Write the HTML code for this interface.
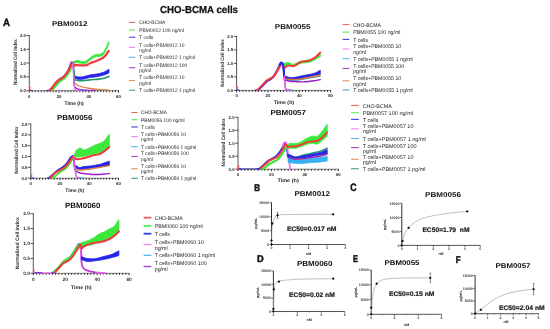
<!DOCTYPE html>
<html><head><meta charset="utf-8"><title>CHO-BCMA cells</title>
<style>html,body{margin:0;padding:0;background:#fff;}body{width:550px;height:329px;overflow:hidden;}svg{display:block;}</style>
</head><body>
<svg width="550" height="329" viewBox="0 0 550 329" text-rendering="geometricPrecision" font-family="&quot;Liberation Sans&quot;, Arial, sans-serif">
<rect width="550" height="329" fill="#fff"/>
<text x="160.10" y="12.70" font-size="10.1" font-weight="bold" textLength="77.90" lengthAdjust="spacingAndGlyphs" text-anchor="start" fill="#111" stroke="#111" stroke-width="0.25" stroke-linejoin="round">CHO-BCMA cells</text>
<text x="3.10" y="25.70" font-size="10.6" font-weight="bold" textLength="7.00" lengthAdjust="spacingAndGlyphs" text-anchor="start" fill="#111" stroke="#111" stroke-width="0.45" stroke-linejoin="round">A</text>
<text x="254.20" y="191.10" font-size="10.0" font-weight="bold" textLength="5.80" lengthAdjust="spacingAndGlyphs" text-anchor="start" fill="#111" stroke="#111" stroke-width="0.5" stroke-linejoin="round">B</text>
<text x="350.30" y="190.80" font-size="10.8" font-weight="bold" textLength="6.30" lengthAdjust="spacingAndGlyphs" text-anchor="start" fill="#111" stroke="#111" stroke-width="0.5" stroke-linejoin="round">C</text>
<text x="257.10" y="261.90" font-size="9.8" font-weight="bold" textLength="6.70" lengthAdjust="spacingAndGlyphs" text-anchor="start" fill="#111" stroke="#111" stroke-width="0.5" stroke-linejoin="round">D</text>
<text x="353.10" y="262.00" font-size="9.8" font-weight="bold" textLength="5.00" lengthAdjust="spacingAndGlyphs" text-anchor="start" fill="#111" stroke="#111" stroke-width="0.5" stroke-linejoin="round">E</text>
<text x="455.70" y="263.10" font-size="9.8" font-weight="bold" textLength="4.90" lengthAdjust="spacingAndGlyphs" text-anchor="start" fill="#111" stroke="#111" stroke-width="0.5" stroke-linejoin="round">F</text>
<text x="52.00" y="26.00" font-size="6.9" font-weight="bold" textLength="35.50" lengthAdjust="spacingAndGlyphs" text-anchor="start" fill="#111">PBM0012</text>
<text x="274.80" y="29.30" font-size="7.0" font-weight="bold" textLength="35.70" lengthAdjust="spacingAndGlyphs" text-anchor="start" fill="#111">PBM0055</text>
<text x="57.00" y="119.70" font-size="7.3" font-weight="bold" textLength="35.50" lengthAdjust="spacingAndGlyphs" text-anchor="start" fill="#111">PBM0056</text>
<text x="270.50" y="115.30" font-size="7.3" font-weight="bold" textLength="35.50" lengthAdjust="spacingAndGlyphs" text-anchor="start" fill="#111">PBM0057</text>
<text x="65.00" y="207.70" font-size="7.6" font-weight="bold" textLength="35.50" lengthAdjust="spacingAndGlyphs" text-anchor="start" fill="#111">PBM0060</text>
<text x="294.50" y="195.70" font-size="7.1" font-weight="bold" textLength="35.50" lengthAdjust="spacingAndGlyphs" text-anchor="start" fill="#111">PBM0012</text>
<text x="425.00" y="196.50" font-size="7.0" font-weight="bold" textLength="36.00" lengthAdjust="spacingAndGlyphs" text-anchor="start" fill="#111">PBM0056</text>
<text x="297.00" y="265.50" font-size="7.3" font-weight="bold" textLength="35.50" lengthAdjust="spacingAndGlyphs" text-anchor="start" fill="#111">PBM0060</text>
<text x="384.50" y="264.70" font-size="6.8" font-weight="bold" textLength="35.00" lengthAdjust="spacingAndGlyphs" text-anchor="start" fill="#111">PBM0055</text>
<text x="495.50" y="267.50" font-size="7.0" font-weight="bold" textLength="35.00" lengthAdjust="spacingAndGlyphs" text-anchor="start" fill="#111">PBM0057</text>
<line x1="29.30" y1="35.20" x2="29.30" y2="90.70" stroke="#555" stroke-width="1.0"/>
<line x1="26.50" y1="90.70" x2="29.30" y2="90.70" stroke="#2a2a2a" stroke-width="0.8"/>
<text x="25.90" y="92.25" font-size="4.3" font-weight="bold" text-anchor="end" fill="#2a2a2a">0.0</text>
<line x1="26.50" y1="76.90" x2="29.30" y2="76.90" stroke="#2a2a2a" stroke-width="0.8"/>
<text x="25.90" y="78.45" font-size="4.3" font-weight="bold" text-anchor="end" fill="#2a2a2a">0.5</text>
<line x1="26.50" y1="63.10" x2="29.30" y2="63.10" stroke="#2a2a2a" stroke-width="0.8"/>
<text x="25.90" y="64.65" font-size="4.3" font-weight="bold" text-anchor="end" fill="#2a2a2a">1.0</text>
<line x1="26.50" y1="49.30" x2="29.30" y2="49.30" stroke="#2a2a2a" stroke-width="0.8"/>
<text x="25.90" y="50.85" font-size="4.3" font-weight="bold" text-anchor="end" fill="#2a2a2a">1.5</text>
<line x1="26.50" y1="35.50" x2="29.30" y2="35.50" stroke="#2a2a2a" stroke-width="0.8"/>
<text x="25.90" y="37.05" font-size="4.3" font-weight="bold" text-anchor="end" fill="#2a2a2a">2.0</text>
<line x1="29.30" y1="90.70" x2="118.80" y2="90.70" stroke="#777" stroke-width="0.9"/>
<line x1="29.30" y1="90.50" x2="29.30" y2="92.70" stroke="#1a1a1a" stroke-width="0.9"/>
<line x1="32.27" y1="90.50" x2="32.27" y2="92.20" stroke="#1a1a1a" stroke-width="0.9"/>
<line x1="35.25" y1="90.50" x2="35.25" y2="92.20" stroke="#1a1a1a" stroke-width="0.9"/>
<line x1="38.22" y1="90.50" x2="38.22" y2="92.20" stroke="#1a1a1a" stroke-width="0.9"/>
<line x1="41.19" y1="90.50" x2="41.19" y2="92.20" stroke="#1a1a1a" stroke-width="0.9"/>
<line x1="44.17" y1="90.50" x2="44.17" y2="92.20" stroke="#1a1a1a" stroke-width="0.9"/>
<line x1="47.14" y1="90.50" x2="47.14" y2="92.20" stroke="#1a1a1a" stroke-width="0.9"/>
<line x1="50.11" y1="90.50" x2="50.11" y2="92.20" stroke="#1a1a1a" stroke-width="0.9"/>
<line x1="53.09" y1="90.50" x2="53.09" y2="92.20" stroke="#1a1a1a" stroke-width="0.9"/>
<line x1="56.06" y1="90.50" x2="56.06" y2="92.20" stroke="#1a1a1a" stroke-width="0.9"/>
<line x1="59.03" y1="90.50" x2="59.03" y2="92.70" stroke="#1a1a1a" stroke-width="0.9"/>
<line x1="62.01" y1="90.50" x2="62.01" y2="92.20" stroke="#1a1a1a" stroke-width="0.9"/>
<line x1="64.98" y1="90.50" x2="64.98" y2="92.20" stroke="#1a1a1a" stroke-width="0.9"/>
<line x1="67.95" y1="90.50" x2="67.95" y2="92.20" stroke="#1a1a1a" stroke-width="0.9"/>
<line x1="70.93" y1="90.50" x2="70.93" y2="92.20" stroke="#1a1a1a" stroke-width="0.9"/>
<line x1="73.90" y1="90.50" x2="73.90" y2="92.20" stroke="#1a1a1a" stroke-width="0.9"/>
<line x1="76.87" y1="90.50" x2="76.87" y2="92.20" stroke="#1a1a1a" stroke-width="0.9"/>
<line x1="79.85" y1="90.50" x2="79.85" y2="92.20" stroke="#1a1a1a" stroke-width="0.9"/>
<line x1="82.82" y1="90.50" x2="82.82" y2="92.20" stroke="#1a1a1a" stroke-width="0.9"/>
<line x1="85.79" y1="90.50" x2="85.79" y2="92.20" stroke="#1a1a1a" stroke-width="0.9"/>
<line x1="88.77" y1="90.50" x2="88.77" y2="92.70" stroke="#1a1a1a" stroke-width="0.9"/>
<line x1="91.74" y1="90.50" x2="91.74" y2="92.20" stroke="#1a1a1a" stroke-width="0.9"/>
<line x1="94.71" y1="90.50" x2="94.71" y2="92.20" stroke="#1a1a1a" stroke-width="0.9"/>
<line x1="97.69" y1="90.50" x2="97.69" y2="92.20" stroke="#1a1a1a" stroke-width="0.9"/>
<line x1="100.66" y1="90.50" x2="100.66" y2="92.20" stroke="#1a1a1a" stroke-width="0.9"/>
<line x1="103.63" y1="90.50" x2="103.63" y2="92.20" stroke="#1a1a1a" stroke-width="0.9"/>
<line x1="106.61" y1="90.50" x2="106.61" y2="92.20" stroke="#1a1a1a" stroke-width="0.9"/>
<line x1="109.58" y1="90.50" x2="109.58" y2="92.20" stroke="#1a1a1a" stroke-width="0.9"/>
<line x1="112.55" y1="90.50" x2="112.55" y2="92.20" stroke="#1a1a1a" stroke-width="0.9"/>
<line x1="115.53" y1="90.50" x2="115.53" y2="92.20" stroke="#1a1a1a" stroke-width="0.9"/>
<line x1="118.50" y1="90.50" x2="118.50" y2="92.70" stroke="#1a1a1a" stroke-width="0.9"/>
<text x="29.30" y="98.00" font-size="4.3" font-weight="bold" text-anchor="middle" fill="#2a2a2a">0</text>
<text x="59.03" y="98.00" font-size="4.3" font-weight="bold" text-anchor="middle" fill="#2a2a2a">20</text>
<text x="88.77" y="98.00" font-size="4.3" font-weight="bold" text-anchor="middle" fill="#2a2a2a">40</text>
<text x="118.50" y="98.00" font-size="4.3" font-weight="bold" text-anchor="middle" fill="#2a2a2a">60</text>
<text transform="translate(17.00,62.10) rotate(-90)" x="0" y="0" font-size="5.0" font-weight="bold" text-anchor="middle" fill="#2a2a2a" textLength="45.8" lengthAdjust="spacingAndGlyphs">Normalized Cell Index</text>
<text x="74.10" y="104.60" font-size="5.0" font-weight="bold" textLength="19.20" lengthAdjust="spacingAndGlyphs" text-anchor="middle" fill="#222">Time (h)</text>
<line x1="30.10" y1="90.40" x2="32.30" y2="90.40" stroke="#2626e6" stroke-width="1.1"/>
<line x1="46.50" y1="90.40" x2="49.50" y2="90.40" stroke="#2626e6" stroke-width="1.1"/>
<line x1="29.90" y1="86.70" x2="29.90" y2="90.70" stroke="#f04040" stroke-width="1.0"/>
<line x1="28.50" y1="87.50" x2="31.30" y2="87.50" stroke="#f48080" stroke-width="0.6"/>
<path d="M49.00,90.50 C49.50,90.02 50.90,88.85 52.00,87.60 C53.10,86.35 54.40,84.37 55.60,83.00 C56.80,81.63 57.87,80.47 59.20,79.40 C60.53,78.33 62.20,77.93 63.60,76.60 C65.00,75.27 66.57,73.10 67.60,71.40 C68.63,69.70 69.23,67.80 69.80,66.40 C70.37,65.00 70.63,63.70 71.00,63.00 C71.37,62.30 71.67,62.03 72.00,62.20 C72.33,62.37 72.73,62.70 73.00,64.00 C73.27,65.30 73.43,68.00 73.60,70.00 C73.77,72.00 73.93,75.00 74.00,76.00" fill="none" stroke="#2626e6" stroke-width="1.6" stroke-linejoin="round" stroke-linecap="round"/>
<path d="M51.00,90.40 C51.50,89.83 53.00,88.23 54.00,87.00 C55.00,85.77 56.00,84.17 57.00,83.00 C58.00,81.83 58.75,81.08 60.00,80.00 C61.25,78.92 63.00,78.08 64.50,76.50 C66.00,74.92 67.82,72.50 69.00,70.50 C70.18,68.50 70.97,65.83 71.60,64.50 C72.23,63.17 72.40,63.00 72.80,62.50 C73.20,62.00 73.55,61.82 74.00,61.50 C74.45,61.18 74.83,60.75 75.50,60.60 C76.17,60.45 77.12,60.50 78.00,60.60 C78.88,60.70 79.88,61.03 80.80,61.20 C81.72,61.37 82.72,61.58 83.50,61.60 C84.28,61.62 84.58,61.77 85.50,61.30 C86.42,60.83 87.83,59.68 89.00,58.80 C90.17,57.92 91.22,56.73 92.50,56.00 C93.78,55.27 95.37,54.73 96.70,54.40 C98.03,54.07 99.45,54.32 100.50,54.00 C101.55,53.68 102.17,53.40 103.00,52.50 C103.83,51.60 104.53,50.45 105.50,48.60 C106.47,46.75 108.25,42.60 108.80,41.40 L108.80,44.20 C108.25,45.37 106.47,49.40 105.50,51.20 C104.53,53.00 103.83,54.15 103.00,55.00 C102.17,55.85 101.55,56.03 100.50,56.30 C99.45,56.57 98.03,56.27 96.70,56.60 C95.37,56.93 93.78,57.57 92.50,58.30 C91.22,59.03 90.17,60.12 89.00,61.00 C87.83,61.88 86.42,63.13 85.50,63.60 C84.58,64.07 84.28,63.85 83.50,63.80 C82.72,63.75 81.72,63.47 80.80,63.30 C79.88,63.13 78.88,62.90 78.00,62.80 C77.12,62.70 76.17,62.58 75.50,62.70 C74.83,62.82 74.37,63.20 74.00,63.50 C73.63,63.80 73.58,64.00 73.30,64.50 C73.02,65.00 72.88,65.17 72.30,66.50 C71.72,67.83 70.93,70.53 69.80,72.50 C68.67,74.47 66.97,76.80 65.50,78.30 C64.03,79.80 62.25,80.52 61.00,81.50 C59.75,82.48 59.00,83.12 58.00,84.20 C57.00,85.28 56.00,86.92 55.00,88.00 C54.00,89.08 52.50,90.25 52.00,90.70 Z" fill="#3be83b" stroke="#3be83b" stroke-width="0.8" stroke-linejoin="round"/>
<path d="M49.60,90.50 C50.08,89.97 51.53,88.50 52.50,87.30 C53.47,86.10 54.33,84.53 55.40,83.30 C56.47,82.07 57.55,80.95 58.90,79.90 C60.25,78.85 61.97,78.45 63.50,77.00 C65.03,75.55 66.85,73.13 68.10,71.20 C69.35,69.27 70.32,66.83 71.00,65.40 C71.68,63.97 71.80,62.83 72.20,62.60 C72.60,62.37 73.07,63.40 73.40,64.00 C73.73,64.60 73.90,66.00 74.20,66.20 C74.50,66.40 74.28,65.35 75.20,65.20 C76.12,65.05 78.00,65.27 79.70,65.30 C81.40,65.33 83.93,65.58 85.40,65.40 C86.87,65.22 87.53,64.63 88.50,64.20 C89.47,63.77 89.80,63.37 91.20,62.80 C92.60,62.23 94.98,61.60 96.90,60.80 C98.82,60.00 101.27,58.88 102.70,58.00 C104.13,57.12 104.52,56.67 105.50,55.50 C106.48,54.33 108.08,51.75 108.60,51.00" fill="none" stroke="#f23a3a" stroke-width="2.2" stroke-linejoin="round" stroke-linecap="round"/>
<path d="M73.80,75.00 C74.38,75.30 75.83,76.50 77.30,76.80 C78.77,77.10 80.55,77.10 82.60,76.80 C84.65,76.50 87.25,75.47 89.60,75.00 C91.95,74.53 94.35,74.47 96.70,74.00 C99.05,73.53 101.65,72.98 103.70,72.20 C105.75,71.42 108.12,69.78 109.00,69.30 L109.00,72.90 C108.12,73.27 105.75,74.47 103.70,75.10 C101.65,75.73 99.05,76.28 96.70,76.70 C94.35,77.12 91.95,77.17 89.60,77.60 C87.25,78.03 84.65,79.03 82.60,79.30 C80.55,79.57 78.77,79.48 77.30,79.20 C75.83,78.92 74.38,77.87 73.80,77.60 Z" fill="#2626e6" stroke="#2626e6" stroke-width="0.8" stroke-linejoin="round"/>
<path d="M73.90,70.00 C74.02,71.42 74.33,76.85 74.60,78.50 C74.87,80.15 74.17,79.52 75.50,79.90 C76.83,80.28 80.25,80.80 82.60,80.80 C84.95,80.80 86.97,80.18 89.60,79.90 C92.23,79.62 96.00,79.38 98.40,79.10 C100.80,78.82 102.23,78.65 104.00,78.20 C105.77,77.75 108.17,76.70 109.00,76.40" fill="none" stroke="#1f9a6a" stroke-width="1.6" stroke-linejoin="round" stroke-linecap="round"/>
<path d="M73.60,70.00 C73.65,71.75 73.67,78.33 73.90,80.50 C74.13,82.67 74.43,82.22 75.00,83.00 C75.57,83.78 76.03,84.53 77.30,85.20 C78.57,85.87 80.82,86.50 82.60,87.00 C84.38,87.50 86.25,87.88 88.00,88.20 C89.75,88.52 91.10,88.68 93.10,88.90 C95.10,89.12 97.35,89.30 100.00,89.50 C102.65,89.70 107.50,90.00 109.00,90.10" fill="none" stroke="#e07a30" stroke-width="1.2" stroke-linejoin="round" stroke-linecap="round"/>
<path d="M73.50,72.00 C73.57,74.00 73.65,81.50 73.90,84.00 C74.15,86.50 74.48,86.23 75.00,87.00 C75.52,87.77 76.17,88.17 77.00,88.60 C77.83,89.03 78.67,89.33 80.00,89.60 C81.33,89.87 82.50,90.07 85.00,90.20 C87.50,90.33 93.33,90.37 95.00,90.40" fill="none" stroke="#9a1fc8" stroke-width="1.2" stroke-linejoin="round" stroke-linecap="round"/>
<path d="M73.40,70.00 C73.53,72.50 73.90,81.75 74.20,85.00 C74.50,88.25 74.57,88.62 75.20,89.50 C75.83,90.38 76.87,90.15 78.00,90.30 C79.13,90.45 81.33,90.38 82.00,90.40" fill="none" stroke="#30b0f0" stroke-width="1.0" stroke-linejoin="round" stroke-linecap="round"/>
<path d="M72.60,63.00 C72.72,64.17 73.10,67.17 73.30,70.00 C73.50,72.83 73.58,77.00 73.80,80.00 C74.02,83.00 74.23,86.30 74.60,88.00 C74.97,89.70 75.10,89.78 76.00,90.20 C76.90,90.62 79.33,90.45 80.00,90.50" fill="none" stroke="#f060f0" stroke-width="1.2" stroke-linejoin="round" stroke-linecap="round"/>
<line x1="129.00" y1="22.40" x2="135.30" y2="22.40" stroke="#f06868" stroke-width="1.1"/>
<text x="139.20" y="24.41" font-size="5.1" textLength="25.90" lengthAdjust="spacingAndGlyphs" text-anchor="start" fill="#1e1e1e">CHO-BCMA</text>
<line x1="129.00" y1="29.90" x2="135.30" y2="29.90" stroke="#58f058" stroke-width="1.1"/>
<text x="139.20" y="31.91" font-size="5.1" textLength="44.80" lengthAdjust="spacingAndGlyphs" text-anchor="start" fill="#1e1e1e">PBM0012 100 ng/ml</text>
<line x1="129.00" y1="37.20" x2="135.30" y2="37.20" stroke="#4040e8" stroke-width="1.1"/>
<text x="139.20" y="39.21" font-size="5.1" textLength="14.07" lengthAdjust="spacingAndGlyphs" text-anchor="start" fill="#1e1e1e">T cells</text>
<line x1="129.00" y1="47.40" x2="135.30" y2="47.40" stroke="#f080f0" stroke-width="1.1"/>
<text x="139.20" y="46.91" font-size="5.1" textLength="45.26" lengthAdjust="spacingAndGlyphs" text-anchor="start" fill="#1e1e1e">T cells+PBM0012 10</text>
<text x="139.20" y="51.91" font-size="5.1" textLength="11.98" lengthAdjust="spacingAndGlyphs" text-anchor="start" fill="#1e1e1e">ng/ml</text>
<line x1="129.00" y1="57.30" x2="135.30" y2="57.30" stroke="#50b8f4" stroke-width="1.1"/>
<text x="139.20" y="59.31" font-size="5.1" textLength="56.00" lengthAdjust="spacingAndGlyphs" text-anchor="start" fill="#1e1e1e">T cells+PBM0012 1 ng/ml</text>
<line x1="129.00" y1="67.70" x2="135.30" y2="67.70" stroke="#a040cc" stroke-width="1.1"/>
<text x="139.20" y="66.51" font-size="5.1" textLength="47.98" lengthAdjust="spacingAndGlyphs" text-anchor="start" fill="#1e1e1e">T cells+PBM0012 100</text>
<text x="139.20" y="72.41" font-size="5.1" textLength="11.98" lengthAdjust="spacingAndGlyphs" text-anchor="start" fill="#1e1e1e">pg/ml</text>
<line x1="129.00" y1="80.50" x2="135.30" y2="80.50" stroke="#e8905a" stroke-width="1.1"/>
<text x="139.20" y="79.31" font-size="5.1" textLength="45.26" lengthAdjust="spacingAndGlyphs" text-anchor="start" fill="#1e1e1e">T cells+PBM0012 10</text>
<text x="139.20" y="85.21" font-size="5.1" textLength="11.98" lengthAdjust="spacingAndGlyphs" text-anchor="start" fill="#1e1e1e">pg/ml</text>
<line x1="129.00" y1="90.20" x2="135.30" y2="90.20" stroke="#30a080" stroke-width="1.1"/>
<text x="139.20" y="92.21" font-size="5.1" textLength="56.00" lengthAdjust="spacingAndGlyphs" text-anchor="start" fill="#1e1e1e">T cells+PBM0012 1 pg/ml</text>
<line x1="236.60" y1="36.10" x2="236.60" y2="90.40" stroke="#555" stroke-width="1.0"/>
<line x1="233.80" y1="90.40" x2="236.60" y2="90.40" stroke="#2a2a2a" stroke-width="0.8"/>
<text x="233.20" y="91.95" font-size="4.3" font-weight="bold" text-anchor="end" fill="#2a2a2a">0.0</text>
<line x1="233.80" y1="76.90" x2="236.60" y2="76.90" stroke="#2a2a2a" stroke-width="0.8"/>
<text x="233.20" y="78.45" font-size="4.3" font-weight="bold" text-anchor="end" fill="#2a2a2a">0.5</text>
<line x1="233.80" y1="63.40" x2="236.60" y2="63.40" stroke="#2a2a2a" stroke-width="0.8"/>
<text x="233.20" y="64.95" font-size="4.3" font-weight="bold" text-anchor="end" fill="#2a2a2a">1.0</text>
<line x1="233.80" y1="49.90" x2="236.60" y2="49.90" stroke="#2a2a2a" stroke-width="0.8"/>
<text x="233.20" y="51.45" font-size="4.3" font-weight="bold" text-anchor="end" fill="#2a2a2a">1.5</text>
<line x1="233.80" y1="36.40" x2="236.60" y2="36.40" stroke="#2a2a2a" stroke-width="0.8"/>
<text x="233.20" y="37.95" font-size="4.3" font-weight="bold" text-anchor="end" fill="#2a2a2a">2.0</text>
<line x1="236.60" y1="90.40" x2="330.90" y2="90.40" stroke="#777" stroke-width="0.9"/>
<line x1="236.60" y1="90.20" x2="236.60" y2="92.40" stroke="#1a1a1a" stroke-width="0.9"/>
<line x1="239.73" y1="90.20" x2="239.73" y2="91.90" stroke="#1a1a1a" stroke-width="0.9"/>
<line x1="242.87" y1="90.20" x2="242.87" y2="91.90" stroke="#1a1a1a" stroke-width="0.9"/>
<line x1="246.00" y1="90.20" x2="246.00" y2="91.90" stroke="#1a1a1a" stroke-width="0.9"/>
<line x1="249.13" y1="90.20" x2="249.13" y2="91.90" stroke="#1a1a1a" stroke-width="0.9"/>
<line x1="252.27" y1="90.20" x2="252.27" y2="91.90" stroke="#1a1a1a" stroke-width="0.9"/>
<line x1="255.40" y1="90.20" x2="255.40" y2="91.90" stroke="#1a1a1a" stroke-width="0.9"/>
<line x1="258.53" y1="90.20" x2="258.53" y2="91.90" stroke="#1a1a1a" stroke-width="0.9"/>
<line x1="261.67" y1="90.20" x2="261.67" y2="91.90" stroke="#1a1a1a" stroke-width="0.9"/>
<line x1="264.80" y1="90.20" x2="264.80" y2="91.90" stroke="#1a1a1a" stroke-width="0.9"/>
<line x1="267.93" y1="90.20" x2="267.93" y2="92.40" stroke="#1a1a1a" stroke-width="0.9"/>
<line x1="271.07" y1="90.20" x2="271.07" y2="91.90" stroke="#1a1a1a" stroke-width="0.9"/>
<line x1="274.20" y1="90.20" x2="274.20" y2="91.90" stroke="#1a1a1a" stroke-width="0.9"/>
<line x1="277.33" y1="90.20" x2="277.33" y2="91.90" stroke="#1a1a1a" stroke-width="0.9"/>
<line x1="280.47" y1="90.20" x2="280.47" y2="91.90" stroke="#1a1a1a" stroke-width="0.9"/>
<line x1="283.60" y1="90.20" x2="283.60" y2="91.90" stroke="#1a1a1a" stroke-width="0.9"/>
<line x1="286.73" y1="90.20" x2="286.73" y2="91.90" stroke="#1a1a1a" stroke-width="0.9"/>
<line x1="289.87" y1="90.20" x2="289.87" y2="91.90" stroke="#1a1a1a" stroke-width="0.9"/>
<line x1="293.00" y1="90.20" x2="293.00" y2="91.90" stroke="#1a1a1a" stroke-width="0.9"/>
<line x1="296.13" y1="90.20" x2="296.13" y2="91.90" stroke="#1a1a1a" stroke-width="0.9"/>
<line x1="299.27" y1="90.20" x2="299.27" y2="92.40" stroke="#1a1a1a" stroke-width="0.9"/>
<line x1="302.40" y1="90.20" x2="302.40" y2="91.90" stroke="#1a1a1a" stroke-width="0.9"/>
<line x1="305.53" y1="90.20" x2="305.53" y2="91.90" stroke="#1a1a1a" stroke-width="0.9"/>
<line x1="308.67" y1="90.20" x2="308.67" y2="91.90" stroke="#1a1a1a" stroke-width="0.9"/>
<line x1="311.80" y1="90.20" x2="311.80" y2="91.90" stroke="#1a1a1a" stroke-width="0.9"/>
<line x1="314.93" y1="90.20" x2="314.93" y2="91.90" stroke="#1a1a1a" stroke-width="0.9"/>
<line x1="318.07" y1="90.20" x2="318.07" y2="91.90" stroke="#1a1a1a" stroke-width="0.9"/>
<line x1="321.20" y1="90.20" x2="321.20" y2="91.90" stroke="#1a1a1a" stroke-width="0.9"/>
<line x1="324.33" y1="90.20" x2="324.33" y2="91.90" stroke="#1a1a1a" stroke-width="0.9"/>
<line x1="327.47" y1="90.20" x2="327.47" y2="91.90" stroke="#1a1a1a" stroke-width="0.9"/>
<line x1="330.60" y1="90.20" x2="330.60" y2="92.40" stroke="#1a1a1a" stroke-width="0.9"/>
<text x="236.60" y="97.40" font-size="4.3" font-weight="bold" text-anchor="middle" fill="#2a2a2a">0</text>
<text x="267.93" y="97.40" font-size="4.3" font-weight="bold" text-anchor="middle" fill="#2a2a2a">20</text>
<text x="299.27" y="97.40" font-size="4.3" font-weight="bold" text-anchor="middle" fill="#2a2a2a">40</text>
<text x="330.60" y="97.40" font-size="4.3" font-weight="bold" text-anchor="middle" fill="#2a2a2a">60</text>
<text transform="translate(224.30,62.90) rotate(-90)" x="0" y="0" font-size="5.0" font-weight="bold" text-anchor="middle" fill="#2a2a2a" textLength="47.5" lengthAdjust="spacingAndGlyphs">Normalized Cell Index</text>
<text x="283.90" y="104.40" font-size="5.0" font-weight="bold" textLength="20.50" lengthAdjust="spacingAndGlyphs" text-anchor="middle" fill="#222">Time (h)</text>
<line x1="237.40" y1="90.10" x2="239.60" y2="90.10" stroke="#2626e6" stroke-width="1.1"/>
<line x1="254.50" y1="90.10" x2="257.50" y2="90.10" stroke="#2626e6" stroke-width="1.1"/>
<line x1="237.20" y1="86.40" x2="237.20" y2="90.40" stroke="#f04040" stroke-width="1.0"/>
<line x1="235.80" y1="87.20" x2="238.60" y2="87.20" stroke="#f48080" stroke-width="0.6"/>
<path d="M258.50,90.40 C259.17,89.67 261.12,87.48 262.50,86.00 C263.88,84.52 265.47,82.58 266.80,81.50 C268.13,80.42 269.30,80.25 270.50,79.50 C271.70,78.75 272.87,78.25 274.00,77.00 C275.13,75.75 276.30,73.75 277.30,72.00 C278.30,70.25 279.33,67.92 280.00,66.50 C280.67,65.08 280.88,63.92 281.30,63.50 C281.72,63.08 282.08,62.92 282.50,64.00 C282.92,65.08 283.45,67.33 283.80,70.00 C284.15,72.67 284.32,76.87 284.60,80.00 C284.88,83.13 285.02,87.20 285.50,88.80 C285.98,90.40 286.75,89.42 287.50,89.60 C288.25,89.78 289.58,89.85 290.00,89.90" fill="none" stroke="#f060f0" stroke-width="1.5" stroke-linejoin="round" stroke-linecap="round"/>
<path d="M257.60,90.40 C258.40,89.67 260.83,87.50 262.40,86.00 C263.97,84.50 265.67,82.53 267.00,81.40 C268.33,80.27 269.32,80.03 270.40,79.20 C271.48,78.37 272.50,77.70 273.50,76.40 C274.50,75.10 275.52,73.03 276.40,71.40 C277.28,69.77 278.13,67.93 278.80,66.60 C279.47,65.27 279.98,64.07 280.40,63.40 C280.82,62.73 280.93,62.58 281.30,62.60 C281.67,62.62 282.23,62.60 282.60,63.50 C282.97,64.40 283.27,65.83 283.50,68.00 C283.73,70.17 283.92,75.08 284.00,76.50" fill="none" stroke="#2626e6" stroke-width="1.8" stroke-linejoin="round" stroke-linecap="round"/>
<path d="M282.00,63.60 C282.17,63.70 282.50,64.27 283.00,64.20 C283.50,64.13 284.08,63.47 285.00,63.20 C285.92,62.93 287.10,62.43 288.50,62.60 C289.90,62.77 291.30,64.47 293.40,64.20 C295.50,63.93 298.53,61.67 301.10,61.00 C303.67,60.33 306.57,60.73 308.80,60.20 C311.03,59.67 312.58,58.80 314.50,57.80 C316.42,56.80 319.33,54.80 320.30,54.20 L320.30,56.60 C319.33,57.17 316.42,59.03 314.50,60.00 C312.58,60.97 311.03,61.87 308.80,62.40 C306.57,62.93 303.67,62.50 301.10,63.20 C298.53,63.90 295.50,66.30 293.40,66.60 C291.30,66.90 289.90,65.13 288.50,65.00 C287.10,64.87 285.83,65.47 285.00,65.80 C284.17,66.13 284.00,67.03 283.50,67.00 C283.00,66.97 282.25,65.83 282.00,65.60 Z" fill="#3be83b" stroke="#3be83b" stroke-width="0.8" stroke-linejoin="round"/>
<path d="M257.30,90.20 C258.07,89.40 260.35,87.00 261.90,85.40 C263.45,83.80 265.25,81.72 266.60,80.60 C267.95,79.48 268.85,79.40 270.00,78.70 C271.15,78.00 272.33,77.65 273.50,76.40 C274.67,75.15 275.93,72.93 277.00,71.20 C278.07,69.47 279.23,67.37 279.90,66.00 C280.57,64.63 280.53,63.10 281.00,63.00 C281.47,62.90 282.22,64.57 282.70,65.40 C283.18,66.23 283.42,67.73 283.90,68.00 C284.38,68.27 284.83,67.40 285.60,67.00 C286.37,66.60 287.20,65.73 288.50,65.60 C289.80,65.47 291.90,66.47 293.40,66.20 C294.90,65.93 296.22,64.70 297.50,64.00 C298.78,63.30 299.22,62.57 301.10,62.00 C302.98,61.43 306.57,61.30 308.80,60.60 C311.03,59.90 312.58,59.13 314.50,57.80 C316.42,56.47 319.33,53.47 320.30,52.60" fill="none" stroke="#f23a3a" stroke-width="2.0" stroke-linejoin="round" stroke-linecap="round"/>
<path d="M279.60,65.00 C279.77,64.67 280.27,63.40 280.60,63.00 C280.93,62.60 281.27,62.50 281.60,62.60 C281.93,62.70 282.32,62.95 282.60,63.60 C282.88,64.25 283.10,65.35 283.30,66.50 C283.50,67.65 283.65,68.92 283.80,70.50 C283.95,72.08 284.13,75.08 284.20,76.00" fill="none" stroke="#2626e6" stroke-width="2.0" stroke-linejoin="round" stroke-linecap="round"/>
<path d="M284.00,75.80 C284.95,76.07 287.87,77.15 289.70,77.40 C291.53,77.65 293.12,77.53 295.00,77.30 C296.88,77.07 298.70,76.47 301.00,76.00 C303.30,75.53 306.55,74.97 308.80,74.50 C311.05,74.03 312.58,73.92 314.50,73.20 C316.42,72.48 319.33,70.70 320.30,70.20 L320.30,74.40 C319.33,74.73 316.42,75.90 314.50,76.40 C312.58,76.90 311.05,76.98 308.80,77.40 C306.55,77.82 303.30,78.48 301.00,78.90 C298.70,79.32 296.88,79.73 295.00,79.90 C293.12,80.07 291.53,79.98 289.70,79.90 C287.87,79.82 284.95,79.48 284.00,79.40 Z" fill="#2626e6" stroke="#2626e6" stroke-width="0.8" stroke-linejoin="round"/>
<path d="M285.00,79.60 C286.67,79.72 292.00,80.37 295.00,80.30 C298.00,80.23 300.50,79.58 303.00,79.20 C305.50,78.82 307.12,78.50 310.00,78.00 C312.88,77.50 318.58,76.50 320.30,76.20" fill="none" stroke="#35a8c0" stroke-width="1.2" stroke-linejoin="round" stroke-linecap="round"/>
<path d="M285.00,79.20 C286.67,79.27 292.00,79.72 295.00,79.60 C298.00,79.48 300.50,78.88 303.00,78.50 C305.50,78.12 307.12,77.88 310.00,77.30 C312.88,76.72 318.58,75.38 320.30,75.00" fill="none" stroke="#e07a30" stroke-width="1.4" stroke-linejoin="round" stroke-linecap="round"/>
<path d="M284.50,80.00 C285.42,80.20 287.87,80.92 290.00,81.20 C292.13,81.48 295.13,81.58 297.30,81.70 C299.47,81.82 301.08,81.93 303.00,81.90 C304.92,81.87 306.88,81.68 308.80,81.50 C310.72,81.32 312.58,81.12 314.50,80.80 C316.42,80.48 319.33,79.80 320.30,79.60" fill="none" stroke="#9a1fc8" stroke-width="1.4" stroke-linejoin="round" stroke-linecap="round"/>
<path d="M285.00,85.00 C285.17,85.77 285.17,88.77 286.00,89.60 C286.83,90.43 288.92,89.93 290.00,90.00 C291.08,90.07 292.08,90.00 292.50,90.00" fill="none" stroke="#30b0f0" stroke-width="1.0" stroke-linejoin="round" stroke-linecap="round"/>
<path d="M284.40,76.00 C284.50,77.00 284.80,79.90 285.00,82.00 C285.20,84.10 285.18,87.33 285.60,88.60 C286.02,89.87 286.77,89.38 287.50,89.60 C288.23,89.82 289.58,89.85 290.00,89.90" fill="none" stroke="#f060f0" stroke-width="1.4" stroke-linejoin="round" stroke-linecap="round"/>
<line x1="342.60" y1="24.50" x2="349.30" y2="24.50" stroke="#f06868" stroke-width="1.1"/>
<text x="353.20" y="26.63" font-size="5.41" textLength="27.60" lengthAdjust="spacingAndGlyphs" text-anchor="start" fill="#1e1e1e">CHO-BCMA</text>
<line x1="342.60" y1="32.10" x2="349.30" y2="32.10" stroke="#58f058" stroke-width="1.1"/>
<text x="353.20" y="34.23" font-size="5.41" textLength="47.30" lengthAdjust="spacingAndGlyphs" text-anchor="start" fill="#1e1e1e">PBM0055 100 ng/ml</text>
<line x1="342.60" y1="39.40" x2="349.30" y2="39.40" stroke="#4040e8" stroke-width="1.1"/>
<text x="353.20" y="41.53" font-size="5.41" textLength="14.93" lengthAdjust="spacingAndGlyphs" text-anchor="start" fill="#1e1e1e">T cells</text>
<line x1="342.60" y1="49.00" x2="349.30" y2="49.00" stroke="#f080f0" stroke-width="1.1"/>
<text x="353.20" y="48.23" font-size="5.41" textLength="48.03" lengthAdjust="spacingAndGlyphs" text-anchor="start" fill="#1e1e1e">T cells+PBM0055 10</text>
<text x="353.20" y="53.63" font-size="5.41" textLength="12.71" lengthAdjust="spacingAndGlyphs" text-anchor="start" fill="#1e1e1e">ng/ml</text>
<line x1="342.60" y1="58.70" x2="349.30" y2="58.70" stroke="#50b8f4" stroke-width="1.1"/>
<text x="353.20" y="60.83" font-size="5.41" textLength="59.60" lengthAdjust="spacingAndGlyphs" text-anchor="start" fill="#1e1e1e">T cells+PBM0055 1 ng/ml</text>
<line x1="342.60" y1="68.50" x2="349.30" y2="68.50" stroke="#a040cc" stroke-width="1.1"/>
<text x="353.20" y="67.83" font-size="5.41" textLength="50.92" lengthAdjust="spacingAndGlyphs" text-anchor="start" fill="#1e1e1e">T cells+PBM0055 100</text>
<text x="353.20" y="73.23" font-size="5.41" textLength="12.71" lengthAdjust="spacingAndGlyphs" text-anchor="start" fill="#1e1e1e">pg/ml</text>
<line x1="342.60" y1="80.80" x2="349.30" y2="80.80" stroke="#e8905a" stroke-width="1.1"/>
<text x="353.20" y="79.73" font-size="5.41" textLength="48.03" lengthAdjust="spacingAndGlyphs" text-anchor="start" fill="#1e1e1e">T cells+PBM0055 10</text>
<text x="353.20" y="85.63" font-size="5.41" textLength="12.71" lengthAdjust="spacingAndGlyphs" text-anchor="start" fill="#1e1e1e">pg/ml</text>
<line x1="342.60" y1="90.00" x2="349.30" y2="90.00" stroke="#4aa3bd" stroke-width="1.1"/>
<text x="353.20" y="92.13" font-size="5.41" textLength="59.60" lengthAdjust="spacingAndGlyphs" text-anchor="start" fill="#1e1e1e">T cells+PBM0055 1 pg/ml</text>
<line x1="30.80" y1="123.70" x2="30.80" y2="178.20" stroke="#555" stroke-width="1.0"/>
<line x1="28.00" y1="178.20" x2="30.80" y2="178.20" stroke="#2a2a2a" stroke-width="0.8"/>
<text x="27.40" y="179.75" font-size="4.3" font-weight="bold" text-anchor="end" fill="#2a2a2a">0.0</text>
<line x1="28.00" y1="167.36" x2="30.80" y2="167.36" stroke="#2a2a2a" stroke-width="0.8"/>
<text x="27.40" y="168.91" font-size="4.3" font-weight="bold" text-anchor="end" fill="#2a2a2a">0.5</text>
<line x1="28.00" y1="156.52" x2="30.80" y2="156.52" stroke="#2a2a2a" stroke-width="0.8"/>
<text x="27.40" y="158.07" font-size="4.3" font-weight="bold" text-anchor="end" fill="#2a2a2a">1.0</text>
<line x1="28.00" y1="145.68" x2="30.80" y2="145.68" stroke="#2a2a2a" stroke-width="0.8"/>
<text x="27.40" y="147.23" font-size="4.3" font-weight="bold" text-anchor="end" fill="#2a2a2a">1.5</text>
<line x1="28.00" y1="134.84" x2="30.80" y2="134.84" stroke="#2a2a2a" stroke-width="0.8"/>
<text x="27.40" y="136.39" font-size="4.3" font-weight="bold" text-anchor="end" fill="#2a2a2a">2.0</text>
<line x1="28.00" y1="124.00" x2="30.80" y2="124.00" stroke="#2a2a2a" stroke-width="0.8"/>
<text x="27.40" y="125.55" font-size="4.3" font-weight="bold" text-anchor="end" fill="#2a2a2a">2.5</text>
<line x1="30.80" y1="178.20" x2="118.70" y2="178.20" stroke="#777" stroke-width="0.9"/>
<line x1="30.80" y1="178.00" x2="30.80" y2="180.20" stroke="#1a1a1a" stroke-width="0.9"/>
<line x1="33.72" y1="178.00" x2="33.72" y2="179.70" stroke="#1a1a1a" stroke-width="0.9"/>
<line x1="36.64" y1="178.00" x2="36.64" y2="179.70" stroke="#1a1a1a" stroke-width="0.9"/>
<line x1="39.56" y1="178.00" x2="39.56" y2="179.70" stroke="#1a1a1a" stroke-width="0.9"/>
<line x1="42.48" y1="178.00" x2="42.48" y2="179.70" stroke="#1a1a1a" stroke-width="0.9"/>
<line x1="45.40" y1="178.00" x2="45.40" y2="179.70" stroke="#1a1a1a" stroke-width="0.9"/>
<line x1="48.32" y1="178.00" x2="48.32" y2="179.70" stroke="#1a1a1a" stroke-width="0.9"/>
<line x1="51.24" y1="178.00" x2="51.24" y2="179.70" stroke="#1a1a1a" stroke-width="0.9"/>
<line x1="54.16" y1="178.00" x2="54.16" y2="179.70" stroke="#1a1a1a" stroke-width="0.9"/>
<line x1="57.08" y1="178.00" x2="57.08" y2="179.70" stroke="#1a1a1a" stroke-width="0.9"/>
<line x1="60.00" y1="178.00" x2="60.00" y2="180.20" stroke="#1a1a1a" stroke-width="0.9"/>
<line x1="62.92" y1="178.00" x2="62.92" y2="179.70" stroke="#1a1a1a" stroke-width="0.9"/>
<line x1="65.84" y1="178.00" x2="65.84" y2="179.70" stroke="#1a1a1a" stroke-width="0.9"/>
<line x1="68.76" y1="178.00" x2="68.76" y2="179.70" stroke="#1a1a1a" stroke-width="0.9"/>
<line x1="71.68" y1="178.00" x2="71.68" y2="179.70" stroke="#1a1a1a" stroke-width="0.9"/>
<line x1="74.60" y1="178.00" x2="74.60" y2="179.70" stroke="#1a1a1a" stroke-width="0.9"/>
<line x1="77.52" y1="178.00" x2="77.52" y2="179.70" stroke="#1a1a1a" stroke-width="0.9"/>
<line x1="80.44" y1="178.00" x2="80.44" y2="179.70" stroke="#1a1a1a" stroke-width="0.9"/>
<line x1="83.36" y1="178.00" x2="83.36" y2="179.70" stroke="#1a1a1a" stroke-width="0.9"/>
<line x1="86.28" y1="178.00" x2="86.28" y2="179.70" stroke="#1a1a1a" stroke-width="0.9"/>
<line x1="89.20" y1="178.00" x2="89.20" y2="180.20" stroke="#1a1a1a" stroke-width="0.9"/>
<line x1="92.12" y1="178.00" x2="92.12" y2="179.70" stroke="#1a1a1a" stroke-width="0.9"/>
<line x1="95.04" y1="178.00" x2="95.04" y2="179.70" stroke="#1a1a1a" stroke-width="0.9"/>
<line x1="97.96" y1="178.00" x2="97.96" y2="179.70" stroke="#1a1a1a" stroke-width="0.9"/>
<line x1="100.88" y1="178.00" x2="100.88" y2="179.70" stroke="#1a1a1a" stroke-width="0.9"/>
<line x1="103.80" y1="178.00" x2="103.80" y2="179.70" stroke="#1a1a1a" stroke-width="0.9"/>
<line x1="106.72" y1="178.00" x2="106.72" y2="179.70" stroke="#1a1a1a" stroke-width="0.9"/>
<line x1="109.64" y1="178.00" x2="109.64" y2="179.70" stroke="#1a1a1a" stroke-width="0.9"/>
<line x1="112.56" y1="178.00" x2="112.56" y2="179.70" stroke="#1a1a1a" stroke-width="0.9"/>
<line x1="115.48" y1="178.00" x2="115.48" y2="179.70" stroke="#1a1a1a" stroke-width="0.9"/>
<line x1="118.40" y1="178.00" x2="118.40" y2="180.20" stroke="#1a1a1a" stroke-width="0.9"/>
<text x="30.80" y="185.00" font-size="4.3" font-weight="bold" text-anchor="middle" fill="#2a2a2a">0</text>
<text x="60.00" y="185.00" font-size="4.3" font-weight="bold" text-anchor="middle" fill="#2a2a2a">20</text>
<text x="89.20" y="185.00" font-size="4.3" font-weight="bold" text-anchor="middle" fill="#2a2a2a">40</text>
<text x="118.40" y="185.00" font-size="4.3" font-weight="bold" text-anchor="middle" fill="#2a2a2a">60</text>
<text transform="translate(18.00,150.10) rotate(-90)" x="0" y="0" font-size="5.0" font-weight="bold" text-anchor="middle" fill="#2a2a2a" textLength="47.2" lengthAdjust="spacingAndGlyphs">Normalized Cell Index</text>
<text x="74.75" y="192.00" font-size="5.0" font-weight="bold" textLength="18.90" lengthAdjust="spacingAndGlyphs" text-anchor="middle" fill="#222">Time (h)</text>
<line x1="31.60" y1="177.90" x2="33.80" y2="177.90" stroke="#2626e6" stroke-width="1.1"/>
<line x1="47.00" y1="177.90" x2="50.00" y2="177.90" stroke="#2626e6" stroke-width="1.1"/>
<line x1="31.40" y1="174.20" x2="31.40" y2="178.20" stroke="#f04040" stroke-width="1.0"/>
<line x1="30.00" y1="175.00" x2="32.80" y2="175.00" stroke="#f48080" stroke-width="0.6"/>
<path d="M49.20,177.80 C49.83,177.25 51.62,175.72 53.00,174.50 C54.38,173.28 56.08,171.58 57.50,170.50 C58.92,169.42 60.17,168.92 61.50,168.00 C62.83,167.08 64.33,166.17 65.50,165.00 C66.67,163.83 67.67,162.23 68.50,161.00 C69.33,159.77 69.87,158.40 70.50,157.60 C71.13,156.80 71.85,156.42 72.30,156.20 C72.75,155.98 72.92,155.83 73.20,156.30 C73.48,156.77 73.80,157.38 74.00,159.00 C74.20,160.62 74.33,164.83 74.40,166.00" fill="none" stroke="#2626e6" stroke-width="1.8" stroke-linejoin="round" stroke-linecap="round"/>
<path d="M52.00,178.00 C52.55,177.70 53.93,177.27 55.30,176.20 C56.67,175.13 58.58,172.80 60.20,171.60 C61.82,170.40 63.38,170.42 65.00,169.00 C66.62,167.58 68.65,164.77 69.90,163.10 C71.15,161.43 71.82,159.98 72.50,159.00 C73.18,158.02 73.75,157.50 74.00,157.20" fill="none" stroke="#3be83b" stroke-width="2.0" stroke-linejoin="round" stroke-linecap="round"/>
<path d="M74.30,156.00 C74.58,155.08 75.47,151.58 76.00,150.50 C76.53,149.42 76.90,149.92 77.50,149.50 C78.10,149.08 78.93,148.15 79.60,148.00 C80.27,147.85 80.87,148.27 81.50,148.60 C82.13,148.93 82.73,149.85 83.40,150.00 C84.07,150.15 84.67,149.77 85.50,149.50 C86.33,149.23 86.80,149.13 88.40,148.40 C90.00,147.67 92.87,146.07 95.10,145.10 C97.33,144.13 100.23,143.37 101.80,142.60 C103.37,141.83 103.67,141.33 104.50,140.50 C105.33,139.67 106.00,138.65 106.80,137.60 C107.60,136.55 108.88,134.77 109.30,134.20 L109.30,147.00 C108.88,147.27 108.33,147.63 106.80,148.60 C105.27,149.57 102.62,151.82 100.10,152.80 C97.58,153.78 94.48,153.93 91.70,154.50 C88.92,155.07 85.90,155.78 83.40,156.20 C80.90,156.62 78.22,156.78 76.70,157.00 C75.18,157.22 74.70,157.42 74.30,157.50 Z" fill="#3be83b" stroke="#3be83b" stroke-width="0.8" stroke-linejoin="round"/>
<path d="M50.40,177.60 C50.83,177.20 52.18,176.00 53.00,175.20 C53.82,174.40 54.10,173.70 55.30,172.80 C56.50,171.90 58.78,170.60 60.20,169.80 C61.62,169.00 62.58,168.92 63.80,168.00 C65.02,167.08 66.38,165.62 67.50,164.30 C68.62,162.98 69.70,161.22 70.50,160.10 C71.30,158.98 71.82,158.15 72.30,157.60 C72.78,157.05 73.03,156.70 73.40,156.80 C73.77,156.90 73.87,157.80 74.50,158.20 C75.13,158.60 75.73,159.18 77.20,159.20 C78.67,159.22 81.50,158.67 83.30,158.30 C85.10,157.93 86.60,157.42 88.00,157.00 C89.40,156.58 90.37,156.17 91.70,155.80 C93.03,155.43 94.60,155.13 96.00,154.80 C97.40,154.47 98.58,154.50 100.10,153.80 C101.62,153.10 103.57,151.73 105.10,150.60 C106.63,149.47 108.60,147.60 109.30,147.00" fill="none" stroke="#f23a3a" stroke-width="2.0" stroke-linejoin="round" stroke-linecap="round"/>
<path d="M74.40,165.60 C74.78,165.67 75.83,165.67 76.70,166.00 C77.57,166.33 78.48,167.50 79.60,167.60 C80.72,167.70 81.38,166.90 83.40,166.60 C85.42,166.30 88.92,166.20 91.70,165.80 C94.48,165.40 97.88,164.73 100.10,164.20 C102.32,163.67 103.47,163.13 105.00,162.60 C106.53,162.07 108.58,161.27 109.30,161.00 L109.30,165.40 C108.58,165.50 106.53,165.75 105.00,166.00 C103.47,166.25 102.32,166.57 100.10,166.90 C97.88,167.23 94.48,167.65 91.70,168.00 C88.92,168.35 85.42,168.77 83.40,169.00 C81.38,169.23 80.72,169.50 79.60,169.40 C78.48,169.30 77.57,168.57 76.70,168.40 C75.83,168.23 74.78,168.40 74.40,168.40 Z" fill="#2626e6" stroke="#2626e6" stroke-width="0.8" stroke-linejoin="round"/>
<path d="M76.00,169.40 C76.67,169.53 78.33,170.17 80.00,170.20 C81.67,170.23 84.05,169.83 86.00,169.60 C87.95,169.37 89.37,169.18 91.70,168.80 C94.03,168.42 97.07,167.83 100.00,167.30 C102.93,166.77 107.75,165.88 109.30,165.60" fill="none" stroke="#e07a30" stroke-width="1.3" stroke-linejoin="round" stroke-linecap="round"/>
<path d="M74.50,168.00 C74.75,168.53 75.15,170.40 76.00,171.20 C76.85,172.00 78.37,172.40 79.60,172.80 C80.83,173.20 81.38,173.33 83.40,173.60 C85.42,173.87 88.92,174.27 91.70,174.40 C94.48,174.53 97.88,174.47 100.10,174.40 C102.32,174.33 103.47,174.15 105.00,174.00 C106.53,173.85 108.58,173.58 109.30,173.50" fill="none" stroke="#9a1fc8" stroke-width="1.5" stroke-linejoin="round" stroke-linecap="round"/>
<path d="M74.40,166.00 C74.58,167.00 75.13,170.25 75.50,172.00 C75.87,173.75 76.13,175.57 76.60,176.50 C77.07,177.43 77.45,177.35 78.30,177.60 C79.15,177.85 80.83,177.93 81.70,178.00 C82.57,178.07 83.20,178.00 83.50,178.00" fill="none" stroke="#30b0f0" stroke-width="1.2" stroke-linejoin="round" stroke-linecap="round"/>
<path d="M73.80,157.00 C73.87,157.83 73.97,159.83 74.20,162.00 C74.43,164.17 74.87,167.67 75.20,170.00 C75.53,172.33 75.87,174.73 76.20,176.00 C76.53,177.27 76.82,177.28 77.20,177.60 C77.58,177.92 78.28,177.85 78.50,177.90" fill="none" stroke="#f060f0" stroke-width="1.3" stroke-linejoin="round" stroke-linecap="round"/>
<line x1="131.30" y1="112.50" x2="137.70" y2="112.50" stroke="#f06868" stroke-width="1.1"/>
<text x="141.10" y="114.49" font-size="5.04" textLength="25.70" lengthAdjust="spacingAndGlyphs" text-anchor="start" fill="#1e1e1e">CHO-BCMA</text>
<line x1="131.30" y1="119.70" x2="137.70" y2="119.70" stroke="#58f058" stroke-width="1.1"/>
<text x="141.10" y="121.69" font-size="5.04" textLength="43.60" lengthAdjust="spacingAndGlyphs" text-anchor="start" fill="#1e1e1e">PBM0056 100 ng/ml</text>
<line x1="131.30" y1="127.00" x2="137.70" y2="127.00" stroke="#4040e8" stroke-width="1.1"/>
<text x="141.10" y="128.99" font-size="5.04" textLength="13.92" lengthAdjust="spacingAndGlyphs" text-anchor="start" fill="#1e1e1e">T cells</text>
<line x1="131.30" y1="136.60" x2="137.70" y2="136.60" stroke="#f080f0" stroke-width="1.1"/>
<text x="141.10" y="135.59" font-size="5.04" textLength="44.80" lengthAdjust="spacingAndGlyphs" text-anchor="start" fill="#1e1e1e">T cells+PBM0056 10</text>
<text x="141.10" y="141.09" font-size="5.04" textLength="11.86" lengthAdjust="spacingAndGlyphs" text-anchor="start" fill="#1e1e1e">ng/ml</text>
<line x1="131.30" y1="146.70" x2="137.70" y2="146.70" stroke="#50b8f4" stroke-width="1.1"/>
<text x="141.10" y="148.69" font-size="5.04" textLength="55.30" lengthAdjust="spacingAndGlyphs" text-anchor="start" fill="#1e1e1e">T cells+PBM0056 1 ng/ml</text>
<line x1="131.30" y1="156.50" x2="137.70" y2="156.50" stroke="#a040cc" stroke-width="1.1"/>
<text x="141.10" y="155.29" font-size="5.04" textLength="47.49" lengthAdjust="spacingAndGlyphs" text-anchor="start" fill="#1e1e1e">T cells+PBM0056 100</text>
<text x="141.10" y="161.09" font-size="5.04" textLength="11.86" lengthAdjust="spacingAndGlyphs" text-anchor="start" fill="#1e1e1e">pg/ml</text>
<line x1="131.30" y1="168.80" x2="137.70" y2="168.80" stroke="#e8905a" stroke-width="1.1"/>
<text x="141.10" y="167.59" font-size="5.04" textLength="44.80" lengthAdjust="spacingAndGlyphs" text-anchor="start" fill="#1e1e1e">T cells+PBM0056 10</text>
<text x="141.10" y="173.49" font-size="5.04" textLength="11.86" lengthAdjust="spacingAndGlyphs" text-anchor="start" fill="#1e1e1e">pg/ml</text>
<line x1="131.30" y1="178.30" x2="137.70" y2="178.30" stroke="#30a080" stroke-width="1.1"/>
<text x="141.10" y="180.29" font-size="5.04" textLength="55.30" lengthAdjust="spacingAndGlyphs" text-anchor="start" fill="#1e1e1e">T cells+PBM0056 1 pg/ml</text>
<line x1="238.00" y1="117.00" x2="238.00" y2="169.20" stroke="#555" stroke-width="1.0"/>
<line x1="235.20" y1="169.20" x2="238.00" y2="169.20" stroke="#2a2a2a" stroke-width="0.8"/>
<text x="234.60" y="170.75" font-size="4.3" font-weight="bold" text-anchor="end" fill="#2a2a2a">0.0</text>
<line x1="235.20" y1="156.22" x2="238.00" y2="156.22" stroke="#2a2a2a" stroke-width="0.8"/>
<text x="234.60" y="157.77" font-size="4.3" font-weight="bold" text-anchor="end" fill="#2a2a2a">0.5</text>
<line x1="235.20" y1="143.25" x2="238.00" y2="143.25" stroke="#2a2a2a" stroke-width="0.8"/>
<text x="234.60" y="144.80" font-size="4.3" font-weight="bold" text-anchor="end" fill="#2a2a2a">1.0</text>
<line x1="235.20" y1="130.27" x2="238.00" y2="130.27" stroke="#2a2a2a" stroke-width="0.8"/>
<text x="234.60" y="131.82" font-size="4.3" font-weight="bold" text-anchor="end" fill="#2a2a2a">1.5</text>
<line x1="235.20" y1="117.30" x2="238.00" y2="117.30" stroke="#2a2a2a" stroke-width="0.8"/>
<text x="234.60" y="118.85" font-size="4.3" font-weight="bold" text-anchor="end" fill="#2a2a2a">2.0</text>
<line x1="238.00" y1="169.20" x2="338.60" y2="169.20" stroke="#777" stroke-width="0.9"/>
<line x1="238.00" y1="169.00" x2="238.00" y2="171.20" stroke="#1a1a1a" stroke-width="0.9"/>
<line x1="241.34" y1="169.00" x2="241.34" y2="170.70" stroke="#1a1a1a" stroke-width="0.9"/>
<line x1="244.69" y1="169.00" x2="244.69" y2="170.70" stroke="#1a1a1a" stroke-width="0.9"/>
<line x1="248.03" y1="169.00" x2="248.03" y2="170.70" stroke="#1a1a1a" stroke-width="0.9"/>
<line x1="251.37" y1="169.00" x2="251.37" y2="170.70" stroke="#1a1a1a" stroke-width="0.9"/>
<line x1="254.72" y1="169.00" x2="254.72" y2="170.70" stroke="#1a1a1a" stroke-width="0.9"/>
<line x1="258.06" y1="169.00" x2="258.06" y2="170.70" stroke="#1a1a1a" stroke-width="0.9"/>
<line x1="261.40" y1="169.00" x2="261.40" y2="170.70" stroke="#1a1a1a" stroke-width="0.9"/>
<line x1="264.75" y1="169.00" x2="264.75" y2="170.70" stroke="#1a1a1a" stroke-width="0.9"/>
<line x1="268.09" y1="169.00" x2="268.09" y2="170.70" stroke="#1a1a1a" stroke-width="0.9"/>
<line x1="271.43" y1="169.00" x2="271.43" y2="171.20" stroke="#1a1a1a" stroke-width="0.9"/>
<line x1="274.78" y1="169.00" x2="274.78" y2="170.70" stroke="#1a1a1a" stroke-width="0.9"/>
<line x1="278.12" y1="169.00" x2="278.12" y2="170.70" stroke="#1a1a1a" stroke-width="0.9"/>
<line x1="281.46" y1="169.00" x2="281.46" y2="170.70" stroke="#1a1a1a" stroke-width="0.9"/>
<line x1="284.81" y1="169.00" x2="284.81" y2="170.70" stroke="#1a1a1a" stroke-width="0.9"/>
<line x1="288.15" y1="169.00" x2="288.15" y2="170.70" stroke="#1a1a1a" stroke-width="0.9"/>
<line x1="291.49" y1="169.00" x2="291.49" y2="170.70" stroke="#1a1a1a" stroke-width="0.9"/>
<line x1="294.84" y1="169.00" x2="294.84" y2="170.70" stroke="#1a1a1a" stroke-width="0.9"/>
<line x1="298.18" y1="169.00" x2="298.18" y2="170.70" stroke="#1a1a1a" stroke-width="0.9"/>
<line x1="301.52" y1="169.00" x2="301.52" y2="170.70" stroke="#1a1a1a" stroke-width="0.9"/>
<line x1="304.87" y1="169.00" x2="304.87" y2="171.20" stroke="#1a1a1a" stroke-width="0.9"/>
<line x1="308.21" y1="169.00" x2="308.21" y2="170.70" stroke="#1a1a1a" stroke-width="0.9"/>
<line x1="311.55" y1="169.00" x2="311.55" y2="170.70" stroke="#1a1a1a" stroke-width="0.9"/>
<line x1="314.90" y1="169.00" x2="314.90" y2="170.70" stroke="#1a1a1a" stroke-width="0.9"/>
<line x1="318.24" y1="169.00" x2="318.24" y2="170.70" stroke="#1a1a1a" stroke-width="0.9"/>
<line x1="321.58" y1="169.00" x2="321.58" y2="170.70" stroke="#1a1a1a" stroke-width="0.9"/>
<line x1="324.93" y1="169.00" x2="324.93" y2="170.70" stroke="#1a1a1a" stroke-width="0.9"/>
<line x1="328.27" y1="169.00" x2="328.27" y2="170.70" stroke="#1a1a1a" stroke-width="0.9"/>
<line x1="331.61" y1="169.00" x2="331.61" y2="170.70" stroke="#1a1a1a" stroke-width="0.9"/>
<line x1="334.96" y1="169.00" x2="334.96" y2="170.70" stroke="#1a1a1a" stroke-width="0.9"/>
<line x1="338.30" y1="169.00" x2="338.30" y2="171.20" stroke="#1a1a1a" stroke-width="0.9"/>
<text x="238.00" y="176.00" font-size="4.3" font-weight="bold" text-anchor="middle" fill="#2a2a2a">0</text>
<text x="271.43" y="176.00" font-size="4.3" font-weight="bold" text-anchor="middle" fill="#2a2a2a">20</text>
<text x="304.87" y="176.00" font-size="4.3" font-weight="bold" text-anchor="middle" fill="#2a2a2a">40</text>
<text x="338.30" y="176.00" font-size="4.3" font-weight="bold" text-anchor="middle" fill="#2a2a2a">60</text>
<text transform="translate(225.00,142.50) rotate(-90)" x="0" y="0" font-size="5.0" font-weight="bold" text-anchor="middle" fill="#2a2a2a" textLength="47.9" lengthAdjust="spacingAndGlyphs">Normalized Cell Index</text>
<text x="288.10" y="182.00" font-size="5.0" font-weight="bold" textLength="21.40" lengthAdjust="spacingAndGlyphs" text-anchor="middle" fill="#222">Time (h)</text>
<line x1="238.80" y1="168.90" x2="259.50" y2="168.90" stroke="#2a2a9a" stroke-width="0.9"/>
<line x1="238.80" y1="168.90" x2="241.00" y2="168.90" stroke="#2626e6" stroke-width="1.1"/>
<line x1="256.50" y1="168.90" x2="259.50" y2="168.90" stroke="#2626e6" stroke-width="1.1"/>
<line x1="238.60" y1="165.20" x2="238.60" y2="169.20" stroke="#f04040" stroke-width="1.0"/>
<line x1="237.20" y1="166.00" x2="240.00" y2="166.00" stroke="#f48080" stroke-width="0.6"/>
<path d="M259.00,168.80 C259.70,168.17 261.73,166.33 263.20,165.00 C264.67,163.67 266.37,161.87 267.80,160.80 C269.23,159.73 270.40,159.40 271.80,158.60 C273.20,157.80 274.90,157.10 276.20,156.00 C277.50,154.90 278.53,153.42 279.60,152.00 C280.67,150.58 281.77,148.93 282.60,147.50 C283.43,146.07 284.10,144.18 284.60,143.40 C285.10,142.62 285.27,142.37 285.60,142.80 C285.93,143.23 286.32,144.47 286.60,146.00 C286.88,147.53 287.13,150.33 287.30,152.00 C287.47,153.67 287.55,155.33 287.60,156.00" fill="none" stroke="#2626e6" stroke-width="1.6" stroke-linejoin="round" stroke-linecap="round"/>
<path d="M282.50,146.50 C282.75,145.92 283.55,143.72 284.00,143.00 C284.45,142.28 284.78,142.12 285.20,142.20 C285.62,142.28 286.12,142.45 286.50,143.50 C286.88,144.55 287.15,146.08 287.50,148.50 C287.85,150.92 288.22,155.08 288.60,158.00 C288.98,160.92 289.47,164.20 289.80,166.00 C290.13,167.80 290.47,168.33 290.60,168.80" fill="none" stroke="#f060f0" stroke-width="1.5" stroke-linejoin="round" stroke-linecap="round"/>
<path d="M262.00,169.00 C262.45,168.80 263.50,168.63 264.70,167.80 C265.90,166.97 267.70,165.00 269.20,164.00 C270.70,163.00 272.20,162.63 273.70,161.80 C275.20,160.97 276.70,160.47 278.20,159.00 C279.70,157.53 281.38,154.93 282.70,153.00 C284.02,151.07 285.30,148.57 286.10,147.40 C286.90,146.23 287.27,146.23 287.50,146.00" fill="none" stroke="#3be83b" stroke-width="2.2" stroke-linejoin="round" stroke-linecap="round"/>
<path d="M287.50,145.00 C287.92,144.70 288.72,143.43 290.00,143.20 C291.28,142.97 293.47,143.77 295.20,143.60 C296.93,143.43 298.38,143.13 300.40,142.20 C302.42,141.27 305.28,139.00 307.30,138.00 C309.32,137.00 310.77,136.53 312.50,136.20 C314.23,135.87 315.97,137.00 317.70,136.00 C319.43,135.00 321.32,132.17 322.90,130.20 C324.48,128.23 326.48,125.20 327.20,124.20 L327.20,136.40 C326.48,136.97 324.48,138.53 322.90,139.80 C321.32,141.07 319.43,143.42 317.70,144.00 C315.97,144.58 314.23,143.27 312.50,143.30 C310.77,143.33 309.32,143.62 307.30,144.20 C305.28,144.78 302.42,146.10 300.40,146.80 C298.38,147.50 296.93,148.15 295.20,148.40 C293.47,148.65 291.28,148.23 290.00,148.30 C288.72,148.37 287.92,148.72 287.50,148.80 Z" fill="#3be83b" stroke="#3be83b" stroke-width="0.8" stroke-linejoin="round"/>
<path d="M260.20,168.70 C260.95,168.05 263.20,166.12 264.70,164.80 C266.20,163.48 267.88,161.73 269.20,160.80 C270.52,159.87 271.28,159.85 272.60,159.20 C273.92,158.55 275.78,157.93 277.10,156.90 C278.42,155.87 279.38,154.58 280.50,153.00 C281.62,151.42 282.97,148.80 283.80,147.40 C284.63,146.00 285.05,144.97 285.50,144.60 C285.95,144.23 286.12,144.80 286.50,145.20 C286.88,145.60 287.22,146.80 287.80,147.00 C288.38,147.20 288.77,146.48 290.00,146.40 C291.23,146.32 293.47,146.73 295.20,146.50 C296.93,146.27 298.38,145.72 300.40,145.00 C302.42,144.28 305.28,142.80 307.30,142.20 C309.32,141.60 310.77,141.67 312.50,141.40 C314.23,141.13 315.97,141.37 317.70,140.60 C319.43,139.83 321.32,138.17 322.90,136.80 C324.48,135.43 326.48,133.13 327.20,132.40" fill="none" stroke="#f23a3a" stroke-width="1.9" stroke-linejoin="round" stroke-linecap="round"/>
<path d="M288.00,157.60 C288.33,157.60 288.22,157.35 290.00,157.60 C291.78,157.85 296.20,158.88 298.70,159.10 C301.20,159.32 302.70,159.03 305.00,158.90 C307.30,158.77 310.00,158.52 312.50,158.30 C315.00,158.08 317.55,157.93 320.00,157.60 C322.45,157.27 326.00,156.52 327.20,156.30 L327.20,160.90 C326.00,161.08 322.45,161.72 320.00,162.00 C317.55,162.28 315.00,162.40 312.50,162.60 C310.00,162.80 307.30,163.05 305.00,163.20 C302.70,163.35 301.20,163.57 298.70,163.50 C296.20,163.43 291.78,163.05 290.00,162.80 C288.22,162.55 288.33,162.13 288.00,162.00 Z" fill="#35b0f2" stroke="#35b0f2" stroke-width="0.8" stroke-linejoin="round"/>
<path d="M288.50,155.00 C289.62,155.37 292.65,157.20 295.20,157.20 C297.75,157.20 300.92,155.68 303.80,155.00 C306.68,154.32 309.60,153.77 312.50,153.10 C315.40,152.43 318.75,151.82 321.20,151.00 C323.65,150.18 326.20,148.67 327.20,148.20" fill="none" stroke="#1f9a6a" stroke-width="1.5" stroke-linejoin="round" stroke-linecap="round"/>
<path d="M287.60,154.60 C288.00,154.63 288.73,154.40 290.00,154.80 C291.27,155.20 292.90,156.85 295.20,157.00 C297.50,157.15 300.92,156.20 303.80,155.70 C306.68,155.20 309.60,154.58 312.50,154.00 C315.40,153.42 318.75,152.93 321.20,152.20 C323.65,151.47 326.20,150.03 327.20,149.60 L327.20,153.90 C326.20,154.05 323.65,154.37 321.20,154.80 C318.75,155.23 315.40,155.92 312.50,156.50 C309.60,157.08 306.68,157.87 303.80,158.30 C300.92,158.73 297.50,159.25 295.20,159.10 C292.90,158.95 291.27,157.72 290.00,157.40 C288.73,157.08 288.00,157.23 287.60,157.20 Z" fill="#2626e6" stroke="#2626e6" stroke-width="0.8" stroke-linejoin="round"/>
<path d="M290.00,158.00 C291.33,158.23 295.33,159.33 298.00,159.40 C300.67,159.47 303.33,158.77 306.00,158.40 C308.67,158.03 311.50,157.60 314.00,157.20 C316.50,156.80 318.80,156.43 321.00,156.00 C323.20,155.57 326.17,154.83 327.20,154.60" fill="none" stroke="#e07a30" stroke-width="1.0" stroke-linejoin="round" stroke-linecap="round"/>
<path d="M289.00,157.80 C290.03,158.02 292.73,158.97 295.20,159.10 C297.67,159.23 300.92,158.88 303.80,158.60 C306.68,158.32 309.60,157.87 312.50,157.40 C315.40,156.93 318.75,156.40 321.20,155.80 C323.65,155.20 326.20,154.13 327.20,153.80" fill="none" stroke="#9a1fc8" stroke-width="1.3" stroke-linejoin="round" stroke-linecap="round"/>
<line x1="351.10" y1="105.50" x2="358.80" y2="105.50" stroke="#f06868" stroke-width="1.1"/>
<text x="362.70" y="107.75" font-size="5.39" textLength="29.10" lengthAdjust="spacingAndGlyphs" text-anchor="start" fill="#1e1e1e">CHO-BCMA</text>
<line x1="351.10" y1="112.70" x2="358.80" y2="112.70" stroke="#58f058" stroke-width="1.1"/>
<text x="362.70" y="114.95" font-size="5.39" textLength="50.30" lengthAdjust="spacingAndGlyphs" text-anchor="start" fill="#1e1e1e">PBM0057 100 ng/ml</text>
<line x1="351.10" y1="119.40" x2="358.80" y2="119.40" stroke="#4040e8" stroke-width="1.1"/>
<text x="362.70" y="121.66" font-size="5.39" textLength="15.79" lengthAdjust="spacingAndGlyphs" text-anchor="start" fill="#1e1e1e">T cells</text>
<line x1="351.10" y1="128.90" x2="358.80" y2="128.90" stroke="#f080f0" stroke-width="1.1"/>
<text x="362.70" y="128.46" font-size="5.39" textLength="50.80" lengthAdjust="spacingAndGlyphs" text-anchor="start" fill="#1e1e1e">T cells+PBM0057 10</text>
<text x="362.70" y="133.45" font-size="5.39" textLength="13.45" lengthAdjust="spacingAndGlyphs" text-anchor="start" fill="#1e1e1e">ng/ml</text>
<line x1="351.10" y1="138.50" x2="358.80" y2="138.50" stroke="#50b8f4" stroke-width="1.1"/>
<text x="362.70" y="140.75" font-size="5.39" textLength="63.10" lengthAdjust="spacingAndGlyphs" text-anchor="start" fill="#1e1e1e">T cells+PBM0057 1 ng/ml</text>
<line x1="351.10" y1="147.60" x2="358.80" y2="147.60" stroke="#a040cc" stroke-width="1.1"/>
<text x="362.70" y="147.75" font-size="5.39" textLength="53.86" lengthAdjust="spacingAndGlyphs" text-anchor="start" fill="#1e1e1e">T cells+PBM0057 100</text>
<text x="362.70" y="152.75" font-size="5.39" textLength="13.45" lengthAdjust="spacingAndGlyphs" text-anchor="start" fill="#1e1e1e">pg/ml</text>
<line x1="351.10" y1="159.30" x2="358.80" y2="159.30" stroke="#e8905a" stroke-width="1.1"/>
<text x="362.70" y="159.35" font-size="5.39" textLength="50.80" lengthAdjust="spacingAndGlyphs" text-anchor="start" fill="#1e1e1e">T cells+PBM0057 10</text>
<text x="362.70" y="164.45" font-size="5.39" textLength="13.45" lengthAdjust="spacingAndGlyphs" text-anchor="start" fill="#1e1e1e">pg/ml</text>
<line x1="351.10" y1="168.70" x2="358.80" y2="168.70" stroke="#4f9a78" stroke-width="1.1"/>
<text x="362.70" y="170.95" font-size="5.39" textLength="62.80" lengthAdjust="spacingAndGlyphs" text-anchor="start" fill="#1e1e1e">T cells+PBM0057 1 pg/ml</text>
<line x1="33.30" y1="213.40" x2="33.30" y2="273.30" stroke="#555" stroke-width="1.0"/>
<line x1="30.50" y1="273.30" x2="33.30" y2="273.30" stroke="#2a2a2a" stroke-width="0.8"/>
<text x="29.90" y="275.03" font-size="4.8" font-weight="bold" text-anchor="end" fill="#2a2a2a">0.0</text>
<line x1="30.50" y1="258.40" x2="33.30" y2="258.40" stroke="#2a2a2a" stroke-width="0.8"/>
<text x="29.90" y="260.13" font-size="4.8" font-weight="bold" text-anchor="end" fill="#2a2a2a">0.5</text>
<line x1="30.50" y1="243.50" x2="33.30" y2="243.50" stroke="#2a2a2a" stroke-width="0.8"/>
<text x="29.90" y="245.23" font-size="4.8" font-weight="bold" text-anchor="end" fill="#2a2a2a">1.0</text>
<line x1="30.50" y1="228.60" x2="33.30" y2="228.60" stroke="#2a2a2a" stroke-width="0.8"/>
<text x="29.90" y="230.33" font-size="4.8" font-weight="bold" text-anchor="end" fill="#2a2a2a">1.5</text>
<line x1="30.50" y1="213.70" x2="33.30" y2="213.70" stroke="#2a2a2a" stroke-width="0.8"/>
<text x="29.90" y="215.43" font-size="4.8" font-weight="bold" text-anchor="end" fill="#2a2a2a">2.0</text>
<line x1="33.30" y1="273.30" x2="129.40" y2="273.30" stroke="#777" stroke-width="0.9"/>
<line x1="33.30" y1="273.10" x2="33.30" y2="275.30" stroke="#1a1a1a" stroke-width="0.9"/>
<line x1="36.49" y1="273.10" x2="36.49" y2="274.80" stroke="#1a1a1a" stroke-width="0.9"/>
<line x1="39.69" y1="273.10" x2="39.69" y2="274.80" stroke="#1a1a1a" stroke-width="0.9"/>
<line x1="42.88" y1="273.10" x2="42.88" y2="274.80" stroke="#1a1a1a" stroke-width="0.9"/>
<line x1="46.07" y1="273.10" x2="46.07" y2="274.80" stroke="#1a1a1a" stroke-width="0.9"/>
<line x1="49.27" y1="273.10" x2="49.27" y2="274.80" stroke="#1a1a1a" stroke-width="0.9"/>
<line x1="52.46" y1="273.10" x2="52.46" y2="274.80" stroke="#1a1a1a" stroke-width="0.9"/>
<line x1="55.65" y1="273.10" x2="55.65" y2="274.80" stroke="#1a1a1a" stroke-width="0.9"/>
<line x1="58.85" y1="273.10" x2="58.85" y2="274.80" stroke="#1a1a1a" stroke-width="0.9"/>
<line x1="62.04" y1="273.10" x2="62.04" y2="274.80" stroke="#1a1a1a" stroke-width="0.9"/>
<line x1="65.23" y1="273.10" x2="65.23" y2="275.30" stroke="#1a1a1a" stroke-width="0.9"/>
<line x1="68.43" y1="273.10" x2="68.43" y2="274.80" stroke="#1a1a1a" stroke-width="0.9"/>
<line x1="71.62" y1="273.10" x2="71.62" y2="274.80" stroke="#1a1a1a" stroke-width="0.9"/>
<line x1="74.81" y1="273.10" x2="74.81" y2="274.80" stroke="#1a1a1a" stroke-width="0.9"/>
<line x1="78.01" y1="273.10" x2="78.01" y2="274.80" stroke="#1a1a1a" stroke-width="0.9"/>
<line x1="81.20" y1="273.10" x2="81.20" y2="274.80" stroke="#1a1a1a" stroke-width="0.9"/>
<line x1="84.39" y1="273.10" x2="84.39" y2="274.80" stroke="#1a1a1a" stroke-width="0.9"/>
<line x1="87.59" y1="273.10" x2="87.59" y2="274.80" stroke="#1a1a1a" stroke-width="0.9"/>
<line x1="90.78" y1="273.10" x2="90.78" y2="274.80" stroke="#1a1a1a" stroke-width="0.9"/>
<line x1="93.97" y1="273.10" x2="93.97" y2="274.80" stroke="#1a1a1a" stroke-width="0.9"/>
<line x1="97.17" y1="273.10" x2="97.17" y2="275.30" stroke="#1a1a1a" stroke-width="0.9"/>
<line x1="100.36" y1="273.10" x2="100.36" y2="274.80" stroke="#1a1a1a" stroke-width="0.9"/>
<line x1="103.55" y1="273.10" x2="103.55" y2="274.80" stroke="#1a1a1a" stroke-width="0.9"/>
<line x1="106.75" y1="273.10" x2="106.75" y2="274.80" stroke="#1a1a1a" stroke-width="0.9"/>
<line x1="109.94" y1="273.10" x2="109.94" y2="274.80" stroke="#1a1a1a" stroke-width="0.9"/>
<line x1="113.13" y1="273.10" x2="113.13" y2="274.80" stroke="#1a1a1a" stroke-width="0.9"/>
<line x1="116.33" y1="273.10" x2="116.33" y2="274.80" stroke="#1a1a1a" stroke-width="0.9"/>
<line x1="119.52" y1="273.10" x2="119.52" y2="274.80" stroke="#1a1a1a" stroke-width="0.9"/>
<line x1="122.71" y1="273.10" x2="122.71" y2="274.80" stroke="#1a1a1a" stroke-width="0.9"/>
<line x1="125.91" y1="273.10" x2="125.91" y2="274.80" stroke="#1a1a1a" stroke-width="0.9"/>
<line x1="129.10" y1="273.10" x2="129.10" y2="275.30" stroke="#1a1a1a" stroke-width="0.9"/>
<text x="33.30" y="281.30" font-size="4.8" font-weight="bold" text-anchor="middle" fill="#2a2a2a">0</text>
<text x="65.23" y="281.30" font-size="4.8" font-weight="bold" text-anchor="middle" fill="#2a2a2a">20</text>
<text x="97.17" y="281.30" font-size="4.8" font-weight="bold" text-anchor="middle" fill="#2a2a2a">40</text>
<text x="129.10" y="281.30" font-size="4.8" font-weight="bold" text-anchor="middle" fill="#2a2a2a">60</text>
<text transform="translate(19.40,243.30) rotate(-90)" x="0" y="0" font-size="5.0" font-weight="bold" text-anchor="middle" fill="#2a2a2a" textLength="52.0" lengthAdjust="spacingAndGlyphs">Normalized Cell Index</text>
<text x="81.20" y="288.80" font-size="5.0" font-weight="bold" textLength="20.80" lengthAdjust="spacingAndGlyphs" text-anchor="middle" fill="#222">Time (h)</text>
<line x1="34.30" y1="272.90" x2="52.50" y2="272.90" stroke="#f060f0" stroke-width="1.2"/>
<line x1="34.30" y1="272.70" x2="42.00" y2="272.70" stroke="#2626e6" stroke-width="0.8"/>
<line x1="33.90" y1="269.30" x2="33.90" y2="273.30" stroke="#f04040" stroke-width="1.0"/>
<line x1="32.50" y1="270.10" x2="35.30" y2="270.10" stroke="#f48080" stroke-width="0.6"/>
<path d="M52.50,273.00 C53.17,272.42 55.20,270.73 56.50,269.50 C57.80,268.27 59.05,266.88 60.30,265.60 C61.55,264.32 62.72,262.87 64.00,261.80 C65.28,260.73 66.67,260.42 68.00,259.20 C69.33,257.98 70.75,256.20 72.00,254.50 C73.25,252.80 74.50,250.58 75.50,249.00 C76.50,247.42 77.37,245.83 78.00,245.00 C78.63,244.17 78.87,243.67 79.30,244.00 C79.73,244.33 80.28,245.67 80.60,247.00 C80.92,248.33 81.03,250.33 81.20,252.00 C81.37,253.67 81.53,256.17 81.60,257.00" fill="none" stroke="#2626e6" stroke-width="1.6" stroke-linejoin="round" stroke-linecap="round"/>
<path d="M79.50,244.50 C79.67,245.08 80.25,246.08 80.50,248.00 C80.75,249.92 80.82,253.58 81.00,256.00 C81.18,258.42 81.33,260.70 81.60,262.50 C81.87,264.30 82.05,265.65 82.60,266.80 C83.15,267.95 83.72,268.65 84.90,269.40 C86.08,270.15 88.18,270.83 89.70,271.30 C91.22,271.77 92.38,271.97 94.00,272.20 C95.62,272.43 97.52,272.55 99.40,272.70 C101.28,272.85 104.32,273.03 105.30,273.10" fill="none" stroke="#f060f0" stroke-width="1.8" stroke-linejoin="round" stroke-linecap="round"/>
<path d="M81.20,258.00 C81.37,259.25 81.65,263.67 82.20,265.50 C82.75,267.33 83.37,268.08 84.50,269.00 C85.63,269.92 87.25,270.45 89.00,271.00 C90.75,271.55 94.00,272.08 95.00,272.30" fill="none" stroke="#9a1fc8" stroke-width="0.9" stroke-linejoin="round" stroke-linecap="round"/>
<path d="M53.00,271.60 C53.50,271.13 55.05,269.68 56.00,268.80 C56.95,267.92 57.62,267.55 58.70,266.30 C59.78,265.05 61.25,262.55 62.50,261.30 C63.75,260.05 64.97,259.63 66.20,258.80 C67.43,257.97 68.65,257.65 69.90,256.30 C71.15,254.95 72.55,252.37 73.70,250.70 C74.85,249.03 75.87,247.50 76.80,246.30 C77.73,245.10 78.68,243.97 79.30,243.50 C79.92,243.03 80.30,243.50 80.50,243.50 L80.50,246.00 C80.35,246.00 80.15,245.67 79.60,246.00 C79.05,246.33 78.10,246.92 77.20,248.00 C76.30,249.08 75.32,250.83 74.20,252.50 C73.08,254.17 71.73,256.67 70.50,258.00 C69.27,259.33 68.05,259.67 66.80,260.50 C65.55,261.33 64.22,261.82 63.00,263.00 C61.78,264.18 60.50,266.43 59.50,267.60 C58.50,268.77 57.88,269.17 57.00,270.00 C56.12,270.83 54.67,272.17 54.20,272.60 Z" fill="#3be83b" stroke="#3be83b" stroke-width="0.8" stroke-linejoin="round"/>
<path d="M80.50,243.50 C80.75,243.28 81.33,242.48 82.00,242.20 C82.67,241.92 83.47,242.10 84.50,241.80 C85.53,241.50 87.12,240.83 88.20,240.40 C89.28,239.97 89.93,239.73 91.00,239.20 C92.07,238.67 93.43,237.97 94.60,237.20 C95.77,236.43 96.92,235.30 98.00,234.60 C99.08,233.90 100.02,233.47 101.10,233.00 C102.18,232.53 103.42,232.33 104.50,231.80 C105.58,231.27 106.52,230.40 107.60,229.80 C108.68,229.20 109.92,228.77 111.00,228.20 C112.08,227.63 113.18,227.27 114.10,226.40 C115.02,225.53 115.70,224.13 116.50,223.00 C117.30,221.87 118.50,220.17 118.90,219.60 L118.90,230.80 C118.42,231.33 116.98,232.93 116.00,234.00 C115.02,235.07 114.03,236.37 113.00,237.20 C111.97,238.03 111.08,238.47 109.80,239.00 C108.52,239.53 106.75,240.00 105.30,240.40 C103.85,240.80 102.57,240.93 101.10,241.40 C99.63,241.87 97.93,242.67 96.50,243.20 C95.07,243.73 93.95,244.23 92.50,244.60 C91.05,244.97 89.42,245.07 87.80,245.40 C86.18,245.73 84.02,246.42 82.80,246.60 C81.58,246.78 80.88,246.52 80.50,246.50 Z" fill="#3be83b" stroke="#3be83b" stroke-width="0.8" stroke-linejoin="round"/>
<path d="M55.00,272.40 C55.42,271.92 56.67,270.43 57.50,269.50 C58.33,268.57 58.97,267.88 60.00,266.80 C61.03,265.72 62.25,264.05 63.70,263.00 C65.15,261.95 67.25,261.53 68.70,260.50 C70.15,259.47 71.15,258.35 72.40,256.80 C73.65,255.25 75.05,252.97 76.20,251.20 C77.35,249.43 78.58,247.32 79.30,246.20 C80.02,245.08 80.17,244.28 80.50,244.50 C80.83,244.72 81.07,246.85 81.30,247.50 C81.53,248.15 81.40,248.62 81.90,248.40 C82.40,248.18 83.32,246.83 84.30,246.20 C85.28,245.57 86.25,245.13 87.80,244.60 C89.35,244.07 91.67,243.40 93.60,243.00 C95.53,242.60 97.45,242.57 99.40,242.20 C101.35,241.83 103.35,241.47 105.30,240.80 C107.25,240.13 109.32,239.27 111.10,238.20 C112.88,237.13 114.70,235.53 116.00,234.40 C117.30,233.27 118.42,231.90 118.90,231.40" fill="none" stroke="#f23a3a" stroke-width="2.0" stroke-linejoin="round" stroke-linecap="round"/>
<path d="M81.60,256.50 C82.00,256.68 82.97,257.25 84.00,257.60 C85.03,257.95 85.87,258.43 87.80,258.60 C89.73,258.77 93.02,258.93 95.60,258.60 C98.18,258.27 100.72,257.27 103.30,256.60 C105.88,255.93 109.15,255.23 111.10,254.60 C113.05,253.97 113.70,253.43 115.00,252.80 C116.30,252.17 118.25,251.13 118.90,250.80 L118.90,255.60 C118.25,255.80 116.30,256.43 115.00,256.80 C113.70,257.17 113.05,257.33 111.10,257.80 C109.15,258.27 105.88,259.10 103.30,259.60 C100.72,260.10 98.18,260.47 95.60,260.80 C93.02,261.13 89.73,261.63 87.80,261.60 C85.87,261.57 85.03,260.93 84.00,260.60 C82.97,260.27 82.00,259.77 81.60,259.60 Z" fill="#2626e6" stroke="#2626e6" stroke-width="0.8" stroke-linejoin="round"/>
<line x1="143.60" y1="217.70" x2="151.40" y2="217.70" stroke="#f06868" stroke-width="1.9"/>
<text x="154.70" y="219.87" font-size="5.51" textLength="28.00" lengthAdjust="spacingAndGlyphs" text-anchor="start" fill="#1e1e1e">CHO-BCMA</text>
<line x1="143.60" y1="225.90" x2="151.40" y2="225.90" stroke="#58f058" stroke-width="1.9"/>
<text x="154.70" y="228.07" font-size="5.51" textLength="48.10" lengthAdjust="spacingAndGlyphs" text-anchor="start" fill="#1e1e1e">PBM0060 100 ng/ml</text>
<line x1="143.60" y1="233.70" x2="151.40" y2="233.70" stroke="#4040e8" stroke-width="1.9"/>
<text x="154.70" y="235.87" font-size="5.51" textLength="15.22" lengthAdjust="spacingAndGlyphs" text-anchor="start" fill="#1e1e1e">T cells</text>
<line x1="143.60" y1="244.60" x2="151.40" y2="244.60" stroke="#f080f0" stroke-width="1.3"/>
<text x="154.70" y="244.07" font-size="5.51" textLength="48.95" lengthAdjust="spacingAndGlyphs" text-anchor="start" fill="#1e1e1e">T cells+PBM0060 10</text>
<text x="154.70" y="249.87" font-size="5.51" textLength="12.96" lengthAdjust="spacingAndGlyphs" text-anchor="start" fill="#1e1e1e">ng/ml</text>
<line x1="143.60" y1="255.30" x2="151.40" y2="255.30" stroke="#50b8f4" stroke-width="1.3"/>
<text x="154.70" y="257.47" font-size="5.51" textLength="60.30" lengthAdjust="spacingAndGlyphs" text-anchor="start" fill="#1e1e1e">T cells+PBM0060 1 ng/ml</text>
<line x1="143.60" y1="266.50" x2="151.40" y2="266.50" stroke="#a040cc" stroke-width="1.3"/>
<text x="154.70" y="265.37" font-size="5.51" textLength="51.90" lengthAdjust="spacingAndGlyphs" text-anchor="start" fill="#1e1e1e">T cells+PBM0060 100</text>
<text x="154.70" y="271.37" font-size="5.51" textLength="12.96" lengthAdjust="spacingAndGlyphs" text-anchor="start" fill="#1e1e1e">pg/ml</text>
<line x1="271.50" y1="202.50" x2="271.50" y2="245.00" stroke="#1a1a1a" stroke-width="0.9"/>
<line x1="269.50" y1="202.60" x2="271.50" y2="202.60" stroke="#333" stroke-width="0.7"/>
<text x="269.10" y="203.90" font-size="3.6" font-weight="bold" text-anchor="end" fill="#3a3a3a">15000</text>
<line x1="269.50" y1="216.80" x2="271.50" y2="216.80" stroke="#333" stroke-width="0.7"/>
<text x="269.10" y="218.10" font-size="3.6" font-weight="bold" text-anchor="end" fill="#3a3a3a">10000</text>
<line x1="269.50" y1="230.70" x2="271.50" y2="230.70" stroke="#333" stroke-width="0.7"/>
<text x="269.10" y="232.00" font-size="3.6" font-weight="bold" text-anchor="end" fill="#3a3a3a">5000</text>
<line x1="269.50" y1="244.50" x2="271.50" y2="244.50" stroke="#333" stroke-width="0.7"/>
<text x="269.10" y="245.80" font-size="3.6" font-weight="bold" text-anchor="end" fill="#3a3a3a">0</text>
<line x1="271.50" y1="244.50" x2="345.30" y2="244.50" stroke="#555" stroke-width="1.0"/>
<line x1="271.50" y1="244.50" x2="271.50" y2="246.10" stroke="#333" stroke-width="0.7"/>
<text x="271.50" y="249.40" font-size="3.5" font-weight="bold" text-anchor="middle" fill="#3a3a3a">0</text>
<line x1="290.00" y1="244.50" x2="290.00" y2="246.10" stroke="#333" stroke-width="0.7"/>
<text x="290.00" y="249.40" font-size="3.5" font-weight="bold" text-anchor="middle" fill="#3a3a3a">1</text>
<line x1="308.50" y1="244.50" x2="308.50" y2="246.10" stroke="#333" stroke-width="0.7"/>
<text x="308.50" y="249.40" font-size="3.5" font-weight="bold" text-anchor="middle" fill="#3a3a3a">2</text>
<line x1="326.90" y1="244.50" x2="326.90" y2="246.10" stroke="#333" stroke-width="0.7"/>
<text x="326.90" y="249.40" font-size="3.5" font-weight="bold" text-anchor="middle" fill="#3a3a3a">3</text>
<line x1="345.30" y1="244.50" x2="345.30" y2="246.10" stroke="#333" stroke-width="0.7"/>
<text x="345.30" y="249.40" font-size="3.5" font-weight="bold" text-anchor="middle" fill="#3a3a3a">4</text>
<text transform="translate(256.60,223.30) rotate(-90)" font-size="3.7" font-weight="bold" text-anchor="middle" fill="#222">pg/mL</text>
<text x="308.70" y="254.60" font-size="3.6" font-weight="bold" text-anchor="middle" fill="#2a2a2a">nM</text>
<path d="M271.60,244.00 C271.65,242.00 271.73,235.33 271.90,232.00 C272.07,228.67 272.25,226.17 272.60,224.00 C272.95,221.83 273.43,220.33 274.00,219.00 C274.57,217.67 275.17,216.68 276.00,216.00 C276.83,215.32 276.67,215.15 279.00,214.90 C281.33,214.65 280.98,214.60 290.00,214.50 C299.02,214.40 325.92,214.33 333.10,214.30" fill="none" stroke="#a4a4a4" stroke-width="0.7" stroke-linejoin="round" stroke-linecap="round"/>
<line x1="277.50" y1="212.40" x2="277.50" y2="218.30" stroke="#444" stroke-width="0.6"/>
<line x1="276.70" y1="212.40" x2="278.30" y2="212.40" stroke="#444" stroke-width="0.6"/>
<line x1="276.70" y1="218.30" x2="278.30" y2="218.30" stroke="#444" stroke-width="0.6"/>
<rect x="270.50" y="243.40" width="2" height="2" fill="#111" transform="rotate(45 271.50 244.40)"/>
<rect x="270.50" y="239.40" width="2" height="2" fill="#111" transform="rotate(45 271.50 240.40)"/>
<rect x="271.20" y="222.50" width="2" height="2" fill="#111" transform="rotate(45 272.20 223.50)"/>
<rect x="276.50" y="214.30" width="2" height="2" fill="#111" transform="rotate(45 277.50 215.30)"/>
<rect x="332.10" y="213.30" width="2" height="2" fill="#111" transform="rotate(45 333.10 214.30)"/>
<text x="286.90" y="230.90" font-size="6.6" font-weight="bold" textLength="49.60" lengthAdjust="spacingAndGlyphs" text-anchor="start" fill="#1a1a1a" stroke="#1a1a1a" stroke-width="0.2" stroke-linejoin="round">EC50=0.017 nM</text>
<line x1="401.80" y1="203.30" x2="401.80" y2="245.90" stroke="#1a1a1a" stroke-width="0.9"/>
<line x1="399.80" y1="203.30" x2="401.80" y2="203.30" stroke="#333" stroke-width="0.7"/>
<text x="399.40" y="204.60" font-size="3.6" font-weight="bold" text-anchor="end" fill="#3a3a3a">15000</text>
<line x1="399.80" y1="217.50" x2="401.80" y2="217.50" stroke="#333" stroke-width="0.7"/>
<text x="399.40" y="218.80" font-size="3.6" font-weight="bold" text-anchor="end" fill="#3a3a3a">10000</text>
<line x1="399.80" y1="231.60" x2="401.80" y2="231.60" stroke="#333" stroke-width="0.7"/>
<text x="399.40" y="232.90" font-size="3.6" font-weight="bold" text-anchor="end" fill="#3a3a3a">5000</text>
<line x1="399.80" y1="245.40" x2="401.80" y2="245.40" stroke="#333" stroke-width="0.7"/>
<text x="399.40" y="246.70" font-size="3.6" font-weight="bold" text-anchor="end" fill="#3a3a3a">0</text>
<line x1="401.80" y1="245.40" x2="480.30" y2="245.40" stroke="#555" stroke-width="1.0"/>
<line x1="401.80" y1="245.40" x2="401.80" y2="247.00" stroke="#333" stroke-width="0.7"/>
<text x="401.80" y="250.30" font-size="3.5" font-weight="bold" text-anchor="middle" fill="#3a3a3a">0</text>
<line x1="417.50" y1="245.40" x2="417.50" y2="247.00" stroke="#333" stroke-width="0.7"/>
<text x="417.50" y="250.30" font-size="3.5" font-weight="bold" text-anchor="middle" fill="#3a3a3a">1</text>
<line x1="433.30" y1="245.40" x2="433.30" y2="247.00" stroke="#333" stroke-width="0.7"/>
<text x="433.30" y="250.30" font-size="3.5" font-weight="bold" text-anchor="middle" fill="#3a3a3a">2</text>
<line x1="449.00" y1="245.40" x2="449.00" y2="247.00" stroke="#333" stroke-width="0.7"/>
<text x="449.00" y="250.30" font-size="3.5" font-weight="bold" text-anchor="middle" fill="#3a3a3a">3</text>
<line x1="464.70" y1="245.40" x2="464.70" y2="247.00" stroke="#333" stroke-width="0.7"/>
<text x="464.70" y="250.30" font-size="3.5" font-weight="bold" text-anchor="middle" fill="#3a3a3a">4</text>
<line x1="480.30" y1="245.40" x2="480.30" y2="247.00" stroke="#333" stroke-width="0.7"/>
<text x="480.30" y="250.30" font-size="3.5" font-weight="bold" text-anchor="middle" fill="#3a3a3a">5</text>
<text transform="translate(385.50,224.40) rotate(-90)" font-size="3.7" font-weight="bold" text-anchor="middle" fill="#222">pg/mL</text>
<text x="441.00" y="255.20" font-size="3.6" font-weight="bold" text-anchor="middle" fill="#2a2a2a">nM</text>
<path d="M401.90,245.00 C402.02,244.35 402.23,242.77 402.60,241.10 C402.97,239.43 403.47,236.78 404.10,235.00 C404.73,233.22 405.38,231.92 406.40,230.40 C407.42,228.88 408.30,227.55 410.20,225.90 C412.10,224.25 415.27,221.90 417.80,220.50 C420.33,219.10 421.60,218.52 425.40,217.50 C429.20,216.48 435.53,215.23 440.60,214.40 C445.67,213.57 451.37,213.00 455.80,212.50 C460.23,212.00 465.30,211.58 467.20,211.40" fill="none" stroke="#a4a4a4" stroke-width="0.7" stroke-linejoin="round" stroke-linecap="round"/>
<rect x="400.80" y="244.30" width="2" height="2" fill="#111" transform="rotate(45 401.80 245.30)"/>
<rect x="401.60" y="240.10" width="2" height="2" fill="#111" transform="rotate(45 402.60 241.10)"/>
<rect x="407.70" y="226.80" width="2" height="2" fill="#111" transform="rotate(45 408.70 227.80)"/>
<rect x="466.20" y="210.40" width="2" height="2" fill="#111" transform="rotate(45 467.20 211.40)"/>
<text x="422.40" y="231.80" font-size="6.6" font-weight="bold" textLength="47.10" lengthAdjust="spacingAndGlyphs" text-anchor="start" fill="#1a1a1a" stroke="#1a1a1a" stroke-width="0.2" stroke-linejoin="round">EC50=1.79&#160; nM</text>
<line x1="273.40" y1="270.90" x2="273.40" y2="312.00" stroke="#1a1a1a" stroke-width="0.9"/>
<line x1="271.40" y1="270.90" x2="273.40" y2="270.90" stroke="#333" stroke-width="0.7"/>
<text x="271.00" y="272.20" font-size="3.6" font-weight="bold" text-anchor="end" fill="#3a3a3a">15000</text>
<line x1="271.40" y1="284.20" x2="273.40" y2="284.20" stroke="#333" stroke-width="0.7"/>
<text x="271.00" y="285.50" font-size="3.6" font-weight="bold" text-anchor="end" fill="#3a3a3a">10000</text>
<line x1="271.40" y1="298.10" x2="273.40" y2="298.10" stroke="#333" stroke-width="0.7"/>
<text x="271.00" y="299.40" font-size="3.6" font-weight="bold" text-anchor="end" fill="#3a3a3a">5000</text>
<line x1="271.40" y1="311.50" x2="273.40" y2="311.50" stroke="#333" stroke-width="0.7"/>
<text x="271.00" y="312.80" font-size="3.6" font-weight="bold" text-anchor="end" fill="#3a3a3a">0</text>
<line x1="273.40" y1="311.50" x2="344.70" y2="311.50" stroke="#555" stroke-width="1.0"/>
<line x1="285.35" y1="311.50" x2="285.35" y2="312.50" stroke="#444" stroke-width="0.5"/>
<line x1="309.25" y1="311.50" x2="309.25" y2="312.50" stroke="#444" stroke-width="0.5"/>
<line x1="332.95" y1="311.50" x2="332.95" y2="312.50" stroke="#444" stroke-width="0.5"/>
<line x1="273.40" y1="311.50" x2="273.40" y2="313.10" stroke="#333" stroke-width="0.7"/>
<text x="273.40" y="316.40" font-size="3.5" font-weight="bold" text-anchor="middle" fill="#3a3a3a">0</text>
<line x1="297.30" y1="311.50" x2="297.30" y2="313.10" stroke="#333" stroke-width="0.7"/>
<text x="297.30" y="316.40" font-size="3.5" font-weight="bold" text-anchor="middle" fill="#3a3a3a">2</text>
<line x1="321.20" y1="311.50" x2="321.20" y2="313.10" stroke="#333" stroke-width="0.7"/>
<text x="321.20" y="316.40" font-size="3.5" font-weight="bold" text-anchor="middle" fill="#3a3a3a">4</text>
<line x1="344.70" y1="311.50" x2="344.70" y2="313.10" stroke="#333" stroke-width="0.7"/>
<text x="344.70" y="316.40" font-size="3.5" font-weight="bold" text-anchor="middle" fill="#3a3a3a">6</text>
<text transform="translate(258.70,292.40) rotate(-90)" font-size="3.7" font-weight="bold" text-anchor="middle" fill="#222">pg/mL</text>
<text x="309.20" y="321.40" font-size="3.6" font-weight="bold" text-anchor="middle" fill="#2a2a2a">nM</text>
<path d="M273.50,311.00 C273.55,308.92 273.60,302.82 273.80,298.50 C274.00,294.18 274.13,287.90 274.70,285.10 C275.27,282.30 275.80,282.48 277.20,281.70 C278.60,280.92 279.33,280.82 283.10,280.40 C286.87,279.98 291.43,279.48 299.80,279.20 C308.17,278.92 327.72,278.78 333.30,278.70" fill="none" stroke="#a4a4a4" stroke-width="0.7" stroke-linejoin="round" stroke-linecap="round"/>
<rect x="272.40" y="310.30" width="2" height="2" fill="#111" transform="rotate(45 273.40 311.30)"/>
<rect x="272.40" y="307.80" width="2" height="2" fill="#111" transform="rotate(45 273.40 308.80)"/>
<rect x="272.90" y="288.30" width="2" height="2" fill="#111" transform="rotate(45 273.90 289.30)"/>
<rect x="277.90" y="280.70" width="2" height="2" fill="#111" transform="rotate(45 278.90 281.70)"/>
<rect x="332.30" y="277.70" width="2" height="2" fill="#111" transform="rotate(45 333.30 278.70)"/>
<text x="289.10" y="296.80" font-size="6.6" font-weight="bold" textLength="45.80" lengthAdjust="spacingAndGlyphs" text-anchor="start" fill="#1a1a1a" stroke="#1a1a1a" stroke-width="0.2" stroke-linejoin="round">EC50=0.02 nM</text>
<line x1="371.20" y1="270.00" x2="371.20" y2="314.80" stroke="#1a1a1a" stroke-width="0.9"/>
<line x1="369.20" y1="270.00" x2="371.20" y2="270.00" stroke="#333" stroke-width="0.7"/>
<text x="368.80" y="271.30" font-size="3.6" font-weight="bold" text-anchor="end" fill="#3a3a3a">15000</text>
<line x1="369.20" y1="284.70" x2="371.20" y2="284.70" stroke="#333" stroke-width="0.7"/>
<text x="368.80" y="286.00" font-size="3.6" font-weight="bold" text-anchor="end" fill="#3a3a3a">10000</text>
<line x1="369.20" y1="299.60" x2="371.20" y2="299.60" stroke="#333" stroke-width="0.7"/>
<text x="368.80" y="300.90" font-size="3.6" font-weight="bold" text-anchor="end" fill="#3a3a3a">5000</text>
<line x1="369.20" y1="314.30" x2="371.20" y2="314.30" stroke="#333" stroke-width="0.7"/>
<text x="368.80" y="315.60" font-size="3.6" font-weight="bold" text-anchor="end" fill="#3a3a3a">0</text>
<line x1="371.20" y1="314.30" x2="441.60" y2="314.30" stroke="#555" stroke-width="1.0"/>
<line x1="382.90" y1="314.30" x2="382.90" y2="315.30" stroke="#444" stroke-width="0.5"/>
<line x1="406.40" y1="314.30" x2="406.40" y2="315.30" stroke="#444" stroke-width="0.5"/>
<line x1="429.90" y1="314.30" x2="429.90" y2="315.30" stroke="#444" stroke-width="0.5"/>
<line x1="371.20" y1="314.30" x2="371.20" y2="315.90" stroke="#333" stroke-width="0.7"/>
<text x="371.20" y="319.20" font-size="3.5" font-weight="bold" text-anchor="middle" fill="#3a3a3a">0</text>
<line x1="394.60" y1="314.30" x2="394.60" y2="315.90" stroke="#333" stroke-width="0.7"/>
<text x="394.60" y="319.20" font-size="3.5" font-weight="bold" text-anchor="middle" fill="#3a3a3a">2</text>
<line x1="418.20" y1="314.30" x2="418.20" y2="315.90" stroke="#333" stroke-width="0.7"/>
<text x="418.20" y="319.20" font-size="3.5" font-weight="bold" text-anchor="middle" fill="#3a3a3a">4</text>
<line x1="441.60" y1="314.30" x2="441.60" y2="315.90" stroke="#333" stroke-width="0.7"/>
<text x="441.60" y="319.20" font-size="3.5" font-weight="bold" text-anchor="middle" fill="#3a3a3a">6</text>
<text transform="translate(357.00,292.00) rotate(-90)" font-size="3.7" font-weight="bold" text-anchor="middle" fill="#222">pg/mL</text>
<text x="406.60" y="325.50" font-size="3.6" font-weight="bold" text-anchor="middle" fill="#2a2a2a">nM</text>
<path d="M371.40,314.00 C371.45,313.42 371.57,312.53 371.70,310.50 C371.83,308.47 371.92,304.92 372.20,301.80 C372.48,298.68 372.78,294.58 373.40,291.80 C374.02,289.02 374.78,286.92 375.90,285.10 C377.02,283.28 378.00,281.97 380.10,280.90 C382.20,279.83 384.32,279.18 388.50,278.70 C392.68,278.22 398.23,278.13 405.20,278.00 C412.17,277.87 426.12,277.92 430.30,277.90" fill="none" stroke="#a4a4a4" stroke-width="0.7" stroke-linejoin="round" stroke-linecap="round"/>
<line x1="430.30" y1="273.00" x2="430.30" y2="282.60" stroke="#444" stroke-width="0.6"/>
<line x1="429.50" y1="273.00" x2="431.10" y2="273.00" stroke="#444" stroke-width="0.6"/>
<line x1="429.50" y1="282.60" x2="431.10" y2="282.60" stroke="#444" stroke-width="0.6"/>
<rect x="370.20" y="313.20" width="2" height="2" fill="#111" transform="rotate(45 371.20 314.20)"/>
<rect x="370.20" y="306.70" width="2" height="2" fill="#111" transform="rotate(45 371.20 307.70)"/>
<rect x="375.70" y="282.70" width="2" height="2" fill="#111" transform="rotate(45 376.70 283.70)"/>
<rect x="429.30" y="276.90" width="2" height="2" fill="#111" transform="rotate(45 430.30 277.90)"/>
<text x="388.90" y="295.80" font-size="6.6" font-weight="bold" textLength="45.60" lengthAdjust="spacingAndGlyphs" text-anchor="start" fill="#1a1a1a" stroke="#1a1a1a" stroke-width="0.2" stroke-linejoin="round">EC50=0.15 nM</text>
<line x1="475.10" y1="275.50" x2="475.10" y2="314.20" stroke="#1a1a1a" stroke-width="0.9"/>
<line x1="473.10" y1="275.50" x2="475.10" y2="275.50" stroke="#333" stroke-width="0.7"/>
<text x="472.70" y="276.80" font-size="3.6" font-weight="bold" text-anchor="end" fill="#3a3a3a">15000</text>
<line x1="473.10" y1="288.40" x2="475.10" y2="288.40" stroke="#333" stroke-width="0.7"/>
<text x="472.70" y="289.70" font-size="3.6" font-weight="bold" text-anchor="end" fill="#3a3a3a">10000</text>
<line x1="473.10" y1="301.10" x2="475.10" y2="301.10" stroke="#333" stroke-width="0.7"/>
<text x="472.70" y="302.40" font-size="3.6" font-weight="bold" text-anchor="end" fill="#3a3a3a">5000</text>
<line x1="473.10" y1="313.70" x2="475.10" y2="313.70" stroke="#333" stroke-width="0.7"/>
<text x="472.70" y="315.00" font-size="3.6" font-weight="bold" text-anchor="end" fill="#3a3a3a">0</text>
<line x1="475.10" y1="313.70" x2="538.60" y2="313.70" stroke="#555" stroke-width="1.0"/>
<line x1="481.35" y1="313.70" x2="481.35" y2="314.70" stroke="#444" stroke-width="0.5"/>
<line x1="494.05" y1="313.70" x2="494.05" y2="314.70" stroke="#444" stroke-width="0.5"/>
<line x1="506.85" y1="313.70" x2="506.85" y2="314.70" stroke="#444" stroke-width="0.5"/>
<line x1="519.65" y1="313.70" x2="519.65" y2="314.70" stroke="#444" stroke-width="0.5"/>
<line x1="532.35" y1="313.70" x2="532.35" y2="314.70" stroke="#444" stroke-width="0.5"/>
<line x1="475.10" y1="313.70" x2="475.10" y2="315.30" stroke="#333" stroke-width="0.7"/>
<text x="475.10" y="318.60" font-size="3.5" font-weight="bold" text-anchor="middle" fill="#3a3a3a">0</text>
<line x1="487.60" y1="313.70" x2="487.60" y2="315.30" stroke="#333" stroke-width="0.7"/>
<text x="487.60" y="318.60" font-size="3.5" font-weight="bold" text-anchor="middle" fill="#3a3a3a">1</text>
<line x1="500.50" y1="313.70" x2="500.50" y2="315.30" stroke="#333" stroke-width="0.7"/>
<text x="500.50" y="318.60" font-size="3.5" font-weight="bold" text-anchor="middle" fill="#3a3a3a">2</text>
<line x1="513.20" y1="313.70" x2="513.20" y2="315.30" stroke="#333" stroke-width="0.7"/>
<text x="513.20" y="318.60" font-size="3.5" font-weight="bold" text-anchor="middle" fill="#3a3a3a">3</text>
<line x1="526.10" y1="313.70" x2="526.10" y2="315.30" stroke="#333" stroke-width="0.7"/>
<text x="526.10" y="318.60" font-size="3.5" font-weight="bold" text-anchor="middle" fill="#3a3a3a">4</text>
<line x1="538.60" y1="313.70" x2="538.60" y2="315.30" stroke="#333" stroke-width="0.7"/>
<text x="538.60" y="318.60" font-size="3.5" font-weight="bold" text-anchor="middle" fill="#3a3a3a">5</text>
<text transform="translate(462.20,295.90) rotate(-90)" font-size="3.7" font-weight="bold" text-anchor="middle" fill="#222">pg/mL</text>
<text x="506.00" y="323.00" font-size="3.6" font-weight="bold" text-anchor="middle" fill="#2a2a2a">nM</text>
<path d="M475.20,313.50 C476.15,312.83 478.97,310.95 480.90,309.50 C482.83,308.05 484.70,306.42 486.80,304.80 C488.90,303.18 491.00,301.33 493.50,299.80 C496.00,298.27 499.02,296.77 501.80,295.60 C504.58,294.43 507.42,293.55 510.20,292.80 C512.98,292.05 515.87,291.57 518.50,291.10 C521.13,290.63 523.48,290.32 526.00,290.00 C528.52,289.68 532.33,289.33 533.60,289.20" fill="none" stroke="#a4a4a4" stroke-width="0.7" stroke-linejoin="round" stroke-linecap="round"/>
<line x1="533.60" y1="283.40" x2="533.60" y2="294.80" stroke="#444" stroke-width="0.6"/>
<line x1="532.80" y1="283.40" x2="534.40" y2="283.40" stroke="#444" stroke-width="0.6"/>
<line x1="532.80" y1="294.80" x2="534.40" y2="294.80" stroke="#444" stroke-width="0.6"/>
<rect x="474.10" y="312.60" width="2" height="2" fill="#111" transform="rotate(45 475.10 313.60)"/>
<rect x="479.90" y="308.80" width="2" height="2" fill="#111" transform="rotate(45 480.90 309.80)"/>
<rect x="532.60" y="288.20" width="2" height="2" fill="#111" transform="rotate(45 533.60 289.20)"/>
<text x="498.90" y="309.60" font-size="6.6" font-weight="bold" textLength="45.80" lengthAdjust="spacingAndGlyphs" text-anchor="start" fill="#1a1a1a" stroke="#1a1a1a" stroke-width="0.2" stroke-linejoin="round">EC50=2.04 nM</text>
</svg>
</body></html>
